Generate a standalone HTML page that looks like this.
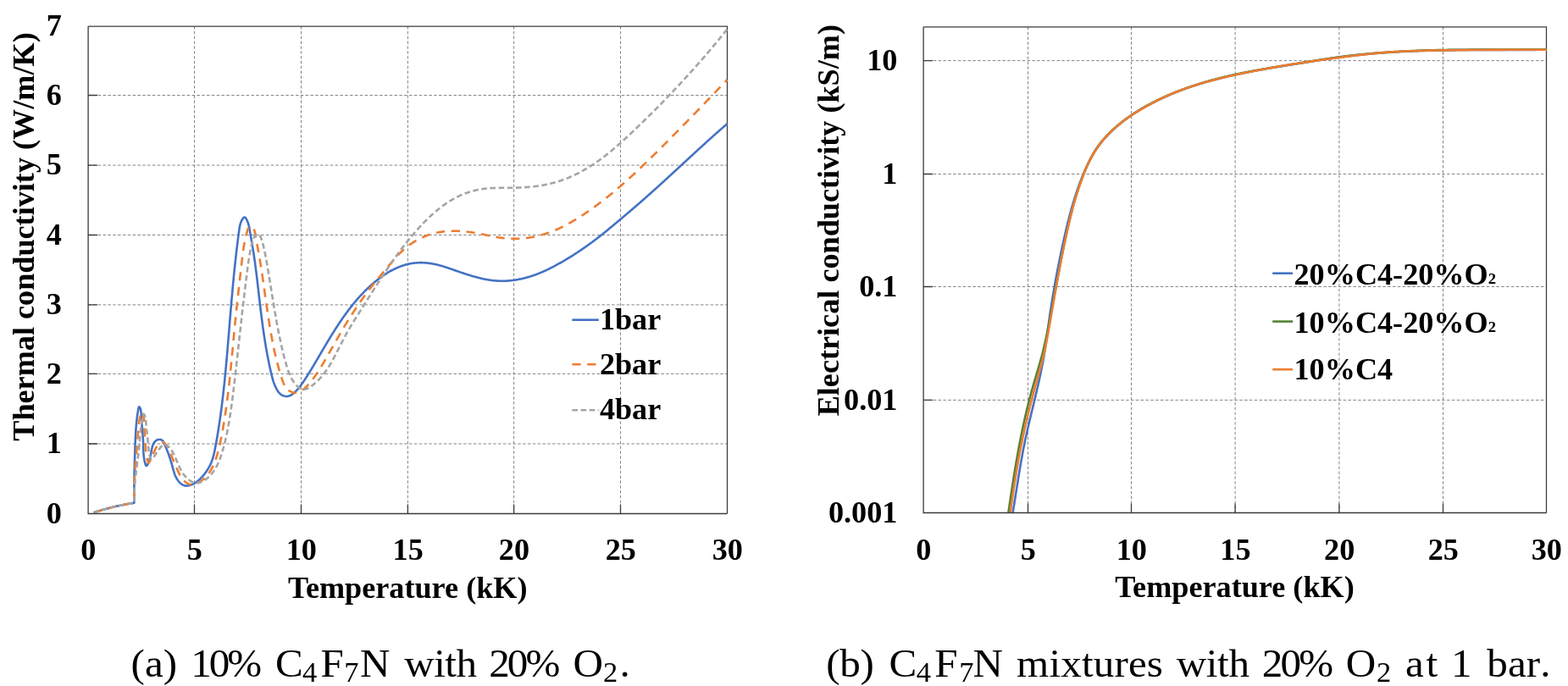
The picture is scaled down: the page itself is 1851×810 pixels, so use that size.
<!DOCTYPE html>
<html lang="en"><head><meta charset="utf-8"><title>Thermal and electrical conductivity</title>
<style>html,body{margin:0;padding:0;background:#fff;overflow:hidden}svg{display:block}.b{font-family:"Liberation Serif",serif;font-weight:bold;font-size:36.2px;fill:#000}.c{font-family:"Liberation Serif",serif;font-size:47px;fill:#000;font-kerning:none}.s{font-family:"Liberation Serif",serif;font-size:33px;fill:#000;font-kerning:none}</style></head><body>
<svg width="1851" height="810" viewBox="0 0 1851 810">
<rect width="1851" height="810" fill="#fff"/>
<path d="M229.50,31.00 V606.50 M355.50,31.00 V606.50 M481.40,31.00 V606.50 M606.60,31.00 V606.50 M732.50,31.00 V606.50 M104.10,524.00 H858.50 M104.10,441.40 H858.50 M104.10,359.90 H858.50 M104.10,277.50 H858.50 M104.10,195.10 H858.50 M104.10,112.50 H858.50" fill="none" stroke="#858585" stroke-width="1" stroke-dasharray="3.5 2.33"/>
<path d="M104.10,31.00 H858.50 V606.50" fill="none" stroke="#3a3a3a" stroke-width="1.25"/>
<clipPath id="cl"><rect x="104.1" y="29.0" width="754.9" height="577.5"/></clipPath>
<g clip-path="url(#cl)" fill="none" stroke-width="2.6" stroke-linejoin="round">
<path d="M110.59,605.28 L111.53,604.97 L112.46,604.66 L113.40,604.36 L114.34,604.06 L115.28,603.76 L116.22,603.47 L117.16,603.18 L118.10,602.89 L119.04,602.61 L119.99,602.33 L120.93,602.05 L121.88,601.78 L122.82,601.51 L123.77,601.24 L124.72,600.97 L125.67,600.71 L126.62,600.45 L127.57,600.20 L128.52,599.95 L129.47,599.70 L130.43,599.46 L131.38,599.22 L132.34,598.98 L133.29,598.74 L134.25,598.51 L135.21,598.28 L136.17,598.06 L137.12,597.84 L138.08,597.62 L139.05,597.40 L140.01,597.19 L140.97,596.98 L141.93,596.78 L142.90,596.58 L143.86,596.38 L144.82,596.18 L145.79,595.99 L146.76,595.80 L147.72,595.62 L148.69,595.44 L149.66,595.26 L150.63,595.08 L151.60,594.91 L152.57,594.75 L153.54,594.58 L154.51,594.42 L155.48,594.26 L156.45,594.11 L157.43,593.96 L158.40,593.81 L158.40,592.80 L158.40,591.80 L158.39,590.80 L158.38,589.80 L158.38,588.80 L158.38,587.80 L158.37,586.80 L158.37,585.80 L158.37,584.80 L158.37,583.80 L158.37,582.80 L158.37,581.80 L158.37,580.80 L158.38,579.80 L158.38,578.80 L158.39,577.80 L158.39,576.80 L158.40,575.80 L158.41,574.80 L158.42,573.80 L158.42,572.80 L158.43,571.80 L158.44,570.80 L158.46,569.81 L158.47,568.81 L158.48,567.81 L158.49,566.81 L158.51,565.81 L158.52,564.81 L158.54,563.81 L158.56,562.81 L158.57,561.81 L158.59,560.81 L158.61,559.82 L158.63,558.82 L158.65,557.82 L158.67,556.82 L158.69,555.82 L158.71,554.82 L158.73,553.82 L158.76,552.82 L158.78,551.83 L158.80,550.83 L158.83,549.83 L158.85,548.83 L158.88,547.83 L158.91,546.83 L158.93,545.83 L158.96,544.83 L158.99,543.84 L159.02,542.84 L159.05,541.84 L159.08,540.84 L159.11,539.84 L159.14,538.84 L159.17,537.84 L159.20,536.85 L159.23,535.85 L159.26,534.85 L159.29,533.85 L159.33,532.85 L159.36,531.85 L159.39,530.85 L159.43,529.85 L159.46,528.86 L159.50,527.86 L159.53,526.86 L159.57,525.86 L159.61,524.86 L159.64,523.86 L159.68,522.86 L159.72,521.86 L159.76,520.86 L159.80,519.87 L159.84,518.87 L159.88,517.87 L159.92,516.87 L159.97,515.87 L160.01,514.87 L160.06,513.87 L160.11,512.87 L160.16,511.87 L160.22,510.88 L160.28,509.88 L160.34,508.88 L160.40,507.88 L160.47,506.88 L160.54,505.88 L160.61,504.88 L160.68,503.89 L160.76,502.89 L160.85,501.89 L160.94,500.89 L161.03,499.89 L161.12,498.89 L161.22,497.90 L161.33,496.90 L161.44,495.90 L161.55,494.90 L161.67,493.91 L161.79,492.91 L161.92,491.91 L162.06,490.91 L162.20,489.92 L162.35,488.92 L162.50,487.92 L162.66,486.93 L162.82,485.93 L163.00,484.94 L163.17,483.94 L163.36,482.94 L163.55,481.95 L163.76,481.04 L164.03,480.43 L164.38,480.33 L164.82,480.76 L165.27,481.58 L165.69,482.59 L166.03,483.65 L166.28,484.71 L166.45,485.77 L166.57,486.83 L166.65,487.89 L166.70,488.94 L166.74,489.99 L166.77,491.02 L166.82,492.04 L166.87,493.04 L166.93,494.04 L166.99,495.03 L167.06,496.02 L167.13,497.00 L167.21,497.98 L167.29,498.95 L167.38,499.93 L167.46,500.90 L167.55,501.88 L167.64,502.87 L167.72,503.85 L167.81,504.84 L167.90,505.83 L167.99,506.83 L168.07,507.83 L168.16,508.83 L168.24,509.83 L168.32,510.83 L168.40,511.84 L168.48,512.84 L168.55,513.85 L168.62,514.85 L168.69,515.86 L168.76,516.86 L168.82,517.87 L168.88,518.87 L168.93,519.87 L168.98,520.87 L169.02,521.87 L169.06,522.87 L169.10,523.86 L169.13,524.85 L169.15,525.84 L169.17,526.83 L169.19,527.81 L169.21,528.80 L169.23,529.78 L169.25,530.76 L169.28,531.75 L169.31,532.73 L169.35,533.72 L169.40,534.71 L169.46,535.70 L169.53,536.69 L169.62,537.69 L169.72,538.70 L169.84,539.71 L169.98,540.72 L170.14,541.75 L170.32,542.78 L170.53,543.82 L170.76,544.86 L171.02,545.92 L171.30,546.98 L171.62,548.05 L171.97,549.02 L172.36,549.74 L172.78,550.07 L173.25,549.89 L173.74,549.29 L174.24,548.39 L174.72,547.35 L175.16,546.30 L175.57,545.27 L175.94,544.27 L176.27,543.29 L176.58,542.33 L176.86,541.38 L177.12,540.44 L177.35,539.51 L177.57,538.58 L177.77,537.65 L177.97,536.72 L178.16,535.78 L178.34,534.82 L178.52,533.85 L178.70,532.86 L178.89,531.85 L179.09,530.82 L179.31,529.77 L179.54,528.73 L179.81,527.68 L180.10,526.66 L180.44,525.66 L180.82,524.69 L181.25,523.77 L181.74,522.90 L182.29,522.09 L182.90,521.35 L183.60,520.70 L184.37,520.13 L185.21,519.66 L186.12,519.29 L187.07,519.05 L188.03,518.94 L188.98,518.96 L189.90,519.14 L190.77,519.48 L191.56,519.99 L192.25,520.68 L192.85,521.52 L193.37,522.46 L193.85,523.48 L194.28,524.51 L194.70,525.52 L195.10,526.50 L195.50,527.45 L195.88,528.37 L196.26,529.28 L196.63,530.18 L196.99,531.08 L197.35,531.97 L197.70,532.87 L198.05,533.77 L198.40,534.68 L198.74,535.60 L199.07,536.53 L199.40,537.46 L199.73,538.39 L200.05,539.33 L200.37,540.28 L200.68,541.22 L200.99,542.18 L201.29,543.13 L201.59,544.09 L201.89,545.06 L202.18,546.02 L202.47,546.99 L202.75,547.96 L203.02,548.93 L203.30,549.90 L203.56,550.88 L203.83,551.85 L204.09,552.83 L204.36,553.80 L204.62,554.77 L204.90,555.73 L205.18,556.69 L205.48,557.65 L205.79,558.60 L206.11,559.54 L206.45,560.47 L206.82,561.39 L207.21,562.30 L207.62,563.20 L208.07,564.08 L208.55,564.95 L209.05,565.81 L209.60,566.65 L210.19,567.47 L210.81,568.27 L211.48,569.06 L212.20,569.82 L212.95,570.54 L213.75,571.21 L214.57,571.82 L215.43,572.35 L216.32,572.80 L217.24,573.14 L218.18,573.38 L219.13,573.53 L220.10,573.58 L221.08,573.55 L222.07,573.45 L223.05,573.27 L224.03,573.03 L225.01,572.73 L225.97,572.38 L226.92,571.99 L227.84,571.56 L228.74,571.10 L229.62,570.61 L230.48,570.09 L231.31,569.54 L232.13,568.97 L232.92,568.37 L233.70,567.75 L234.46,567.11 L235.20,566.45 L235.93,565.77 L236.64,565.07 L237.34,564.36 L238.03,563.63 L238.70,562.89 L239.37,562.14 L240.02,561.38 L240.66,560.60 L241.29,559.82 L241.91,559.03 L242.52,558.22 L243.11,557.41 L243.69,556.58 L244.26,555.75 L244.81,554.91 L245.35,554.06 L245.87,553.20 L246.37,552.33 L246.86,551.46 L247.33,550.57 L247.79,549.68 L248.23,548.78 L248.65,547.88 L249.05,546.97 L249.43,546.05 L249.80,545.12 L250.14,544.19 L250.47,543.26 L250.79,542.31 L251.09,541.37 L251.38,540.42 L251.66,539.46 L251.92,538.50 L252.17,537.54 L252.41,536.57 L252.64,535.60 L252.87,534.63 L253.08,533.65 L253.29,532.67 L253.49,531.69 L253.69,530.71 L253.88,529.73 L254.07,528.75 L254.26,527.76 L254.45,526.78 L254.63,525.79 L254.81,524.81 L254.99,523.82 L255.17,522.84 L255.35,521.85 L255.52,520.87 L255.70,519.88 L255.87,518.90 L256.04,517.91 L256.21,516.92 L256.38,515.94 L256.55,514.95 L256.72,513.96 L256.88,512.98 L257.04,511.99 L257.21,511.00 L257.37,510.02 L257.53,509.03 L257.69,508.04 L257.84,507.05 L258.00,506.07 L258.15,505.08 L258.31,504.09 L258.46,503.10 L258.61,502.11 L258.76,501.12 L258.91,500.14 L259.06,499.15 L259.20,498.16 L259.35,497.17 L259.49,496.18 L259.64,495.19 L259.78,494.20 L259.92,493.21 L260.06,492.22 L260.20,491.23 L260.33,490.24 L260.47,489.25 L260.61,488.26 L260.74,487.27 L260.87,486.28 L261.01,485.29 L261.14,484.30 L261.27,483.31 L261.40,482.32 L261.52,481.33 L261.65,480.33 L261.78,479.34 L261.90,478.35 L262.03,477.36 L262.15,476.37 L262.27,475.38 L262.39,474.38 L262.51,473.39 L262.63,472.40 L262.75,471.41 L262.87,470.42 L262.99,469.42 L263.10,468.43 L263.22,467.44 L263.33,466.45 L263.45,465.45 L263.56,464.46 L263.67,463.47 L263.78,462.47 L263.89,461.48 L264.00,460.49 L264.11,459.49 L264.22,458.50 L264.33,457.51 L264.43,456.51 L264.54,455.52 L264.64,454.53 L264.75,453.53 L264.85,452.54 L264.96,451.54 L265.06,450.55 L265.16,449.56 L265.26,448.56 L265.36,447.57 L265.46,446.57 L265.56,445.58 L265.66,444.58 L265.76,443.59 L265.85,442.60 L265.95,441.60 L266.05,440.61 L266.14,439.61 L266.24,438.62 L266.33,437.62 L266.43,436.63 L266.52,435.63 L266.61,434.64 L266.71,433.64 L266.80,432.65 L266.89,431.65 L266.98,430.66 L267.07,429.66 L267.16,428.66 L267.25,427.67 L267.34,426.67 L267.43,425.68 L267.52,424.68 L267.61,423.69 L267.70,422.69 L267.78,421.70 L267.87,420.70 L267.96,419.70 L268.04,418.71 L268.13,417.71 L268.22,416.72 L268.30,415.72 L268.39,414.73 L268.47,413.73 L268.56,412.73 L268.64,411.74 L268.72,410.74 L268.81,409.75 L268.89,408.75 L268.97,407.75 L269.06,406.76 L269.14,405.76 L269.22,404.76 L269.31,403.77 L269.39,402.77 L269.47,401.78 L269.55,400.78 L269.63,399.78 L269.72,398.79 L269.80,397.79 L269.88,396.80 L269.96,395.80 L270.04,394.80 L270.12,393.81 L270.21,392.81 L270.29,391.81 L270.37,390.82 L270.45,389.82 L270.53,388.83 L270.61,387.83 L270.69,386.83 L270.77,385.84 L270.85,384.84 L270.94,383.84 L271.02,382.85 L271.10,381.85 L271.18,380.86 L271.26,379.86 L271.34,378.86 L271.42,377.87 L271.50,376.87 L271.59,375.88 L271.67,374.88 L271.75,373.88 L271.83,372.89 L271.91,371.89 L272.00,370.90 L272.08,369.90 L272.16,368.90 L272.25,367.91 L272.33,366.91 L272.41,365.92 L272.50,364.92 L272.58,363.93 L272.66,362.93 L272.75,361.93 L272.83,360.94 L272.92,359.94 L273.00,358.95 L273.09,357.95 L273.17,356.96 L273.26,355.96 L273.35,354.97 L273.43,353.97 L273.52,352.98 L273.61,351.98 L273.69,350.99 L273.78,349.99 L273.87,349.00 L273.96,348.00 L274.05,347.01 L274.14,346.01 L274.23,345.02 L274.32,344.02 L274.41,343.03 L274.50,342.03 L274.59,341.04 L274.68,340.04 L274.77,339.05 L274.87,338.05 L274.96,337.06 L275.05,336.06 L275.15,335.07 L275.24,334.07 L275.34,333.08 L275.43,332.08 L275.53,331.09 L275.62,330.10 L275.72,329.10 L275.82,328.11 L275.91,327.11 L276.01,326.12 L276.11,325.12 L276.21,324.13 L276.31,323.14 L276.41,322.14 L276.51,321.15 L276.61,320.15 L276.71,319.16 L276.82,318.17 L276.92,317.17 L277.02,316.18 L277.13,315.18 L277.23,314.19 L277.33,313.20 L277.44,312.20 L277.55,311.21 L277.65,310.21 L277.76,309.22 L277.87,308.23 L277.98,307.23 L278.09,306.24 L278.20,305.24 L278.31,304.25 L278.42,303.26 L278.53,302.26 L278.64,301.27 L278.76,300.28 L278.87,299.28 L278.98,298.29 L279.10,297.29 L279.22,296.30 L279.33,295.31 L279.45,294.31 L279.57,293.32 L279.69,292.33 L279.80,291.33 L279.92,290.34 L280.05,289.35 L280.17,288.35 L280.29,287.36 L280.41,286.36 L280.54,285.37 L280.66,284.38 L280.79,283.38 L280.91,282.39 L281.04,281.40 L281.17,280.40 L281.29,279.41 L281.42,278.42 L281.55,277.42 L281.68,276.43 L281.82,275.44 L281.95,274.44 L282.08,273.45 L282.22,272.46 L282.35,271.46 L282.49,270.47 L282.64,269.48 L282.81,268.49 L282.99,267.51 L283.19,266.53 L283.42,265.56 L283.68,264.60 L283.98,263.64 L284.31,262.69 L284.68,261.75 L285.10,260.83 L285.57,259.91 L286.09,259.01 L286.67,258.12 L287.30,257.29 L287.96,256.68 L288.63,256.43 L289.28,256.66 L289.89,257.28 L290.47,258.13 L291.00,259.07 L291.49,260.02 L291.93,260.98 L292.33,261.94 L292.70,262.91 L293.03,263.87 L293.32,264.85 L293.59,265.82 L293.84,266.80 L294.06,267.77 L294.26,268.75 L294.45,269.74 L294.63,270.72 L294.80,271.70 L294.96,272.69 L295.13,273.67 L295.29,274.66 L295.45,275.64 L295.62,276.63 L295.79,277.61 L295.95,278.59 L296.12,279.58 L296.29,280.56 L296.46,281.55 L296.63,282.53 L296.80,283.52 L296.96,284.50 L297.13,285.49 L297.30,286.47 L297.47,287.46 L297.64,288.44 L297.80,289.43 L297.97,290.41 L298.14,291.40 L298.30,292.38 L298.46,293.37 L298.62,294.36 L298.78,295.34 L298.94,296.33 L299.10,297.32 L299.25,298.30 L299.41,299.29 L299.56,300.28 L299.71,301.27 L299.86,302.25 L300.00,303.24 L300.15,304.23 L300.29,305.22 L300.44,306.21 L300.58,307.20 L300.72,308.19 L300.86,309.18 L300.99,310.17 L301.13,311.16 L301.27,312.15 L301.40,313.14 L301.53,314.13 L301.66,315.12 L301.79,316.11 L301.92,317.10 L302.05,318.09 L302.18,319.08 L302.30,320.07 L302.43,321.06 L302.55,322.06 L302.68,323.05 L302.80,324.04 L302.92,325.03 L303.04,326.02 L303.16,327.02 L303.28,328.01 L303.40,329.00 L303.52,329.99 L303.64,330.99 L303.76,331.98 L303.87,332.97 L303.99,333.96 L304.11,334.96 L304.22,335.95 L304.34,336.94 L304.45,337.94 L304.57,338.93 L304.68,339.92 L304.80,340.91 L304.91,341.91 L305.03,342.90 L305.14,343.89 L305.25,344.89 L305.37,345.88 L305.48,346.87 L305.59,347.87 L305.71,348.86 L305.82,349.85 L305.93,350.85 L306.05,351.84 L306.16,352.83 L306.28,353.83 L306.39,354.82 L306.51,355.81 L306.62,356.81 L306.74,357.80 L306.85,358.79 L306.97,359.79 L307.09,360.78 L307.21,361.77 L307.32,362.76 L307.44,363.76 L307.56,364.75 L307.68,365.74 L307.80,366.73 L307.92,367.73 L308.04,368.72 L308.17,369.71 L308.29,370.70 L308.41,371.70 L308.54,372.69 L308.66,373.68 L308.79,374.67 L308.91,375.66 L309.04,376.65 L309.17,377.64 L309.30,378.64 L309.43,379.63 L309.56,380.62 L309.69,381.61 L309.82,382.60 L309.96,383.59 L310.09,384.58 L310.23,385.57 L310.36,386.56 L310.50,387.55 L310.64,388.54 L310.78,389.53 L310.92,390.52 L311.06,391.51 L311.21,392.49 L311.35,393.48 L311.50,394.47 L311.64,395.46 L311.79,396.45 L311.94,397.44 L312.09,398.42 L312.25,399.41 L312.40,400.40 L312.55,401.39 L312.71,402.37 L312.87,403.36 L313.03,404.35 L313.19,405.33 L313.35,406.32 L313.51,407.30 L313.68,408.29 L313.85,409.27 L314.01,410.26 L314.18,411.24 L314.35,412.23 L314.53,413.21 L314.70,414.20 L314.88,415.18 L315.06,416.16 L315.24,417.15 L315.42,418.13 L315.60,419.11 L315.79,420.09 L315.97,421.08 L316.16,422.06 L316.35,423.04 L316.55,424.02 L316.74,425.00 L316.94,425.98 L317.14,426.96 L317.34,427.94 L317.54,428.92 L317.74,429.90 L317.95,430.88 L318.16,431.86 L318.37,432.83 L318.58,433.81 L318.80,434.79 L319.01,435.77 L319.23,436.74 L319.45,437.72 L319.68,438.70 L319.90,439.67 L320.13,440.65 L320.36,441.62 L320.59,442.60 L320.83,443.57 L321.08,444.54 L321.33,445.51 L321.58,446.47 L321.85,447.44 L322.13,448.40 L322.42,449.35 L322.71,450.30 L323.03,451.25 L323.35,452.19 L323.69,453.12 L324.05,454.05 L324.42,454.97 L324.82,455.89 L325.23,456.79 L325.66,457.69 L326.11,458.58 L326.59,459.46 L327.09,460.34 L327.61,461.20 L328.16,462.04 L328.75,462.86 L329.38,463.65 L330.06,464.40 L330.79,465.09 L331.58,465.73 L332.43,466.30 L333.34,466.80 L334.31,467.22 L335.30,467.56 L336.32,467.80 L337.33,467.95 L338.33,467.99 L339.30,467.93 L340.25,467.77 L341.18,467.53 L342.08,467.20 L342.96,466.80 L343.82,466.33 L344.66,465.81 L345.48,465.23 L346.28,464.61 L347.06,463.95 L347.82,463.27 L348.56,462.56 L349.29,461.84 L350.00,461.11 L350.69,460.36 L351.37,459.61 L352.03,458.85 L352.69,458.08 L353.32,457.30 L353.95,456.52 L354.57,455.73 L355.17,454.93 L355.77,454.12 L356.35,453.31 L356.93,452.50 L357.50,451.68 L358.06,450.86 L358.62,450.03 L359.18,449.20 L359.72,448.37 L360.27,447.53 L360.81,446.70 L361.35,445.86 L361.89,445.02 L362.43,444.18 L362.96,443.34 L363.49,442.49 L364.02,441.65 L364.55,440.81 L365.07,439.96 L365.60,439.11 L366.12,438.26 L366.64,437.41 L367.16,436.56 L367.67,435.71 L368.19,434.86 L368.70,434.01 L369.22,433.15 L369.73,432.30 L370.24,431.44 L370.75,430.59 L371.26,429.73 L371.77,428.87 L372.28,428.02 L372.78,427.16 L373.29,426.30 L373.80,425.44 L374.30,424.58 L374.81,423.72 L375.31,422.86 L375.81,422.00 L376.32,421.14 L376.82,420.28 L377.33,419.41 L377.83,418.55 L378.34,417.69 L378.84,416.83 L379.34,415.96 L379.85,415.10 L380.36,414.24 L380.86,413.38 L381.37,412.51 L381.88,411.65 L382.38,410.79 L382.89,409.93 L383.40,409.07 L383.91,408.20 L384.42,407.34 L384.93,406.48 L385.45,405.62 L385.96,404.76 L386.47,403.90 L386.99,403.04 L387.51,402.18 L388.02,401.33 L388.54,400.47 L389.06,399.61 L389.58,398.76 L390.11,397.90 L390.63,397.05 L391.15,396.19 L391.68,395.34 L392.21,394.49 L392.74,393.64 L393.27,392.79 L393.80,391.94 L394.33,391.09 L394.87,390.24 L395.41,389.40 L395.95,388.55 L396.49,387.71 L397.03,386.87 L397.57,386.03 L398.12,385.19 L398.67,384.35 L399.22,383.51 L399.77,382.68 L400.32,381.85 L400.88,381.01 L401.44,380.18 L402.00,379.35 L402.56,378.53 L403.12,377.70 L403.69,376.88 L404.26,376.06 L404.83,375.24 L405.40,374.42 L405.98,373.60 L406.56,372.79 L407.14,371.98 L407.72,371.17 L408.31,370.36 L408.90,369.55 L409.49,368.75 L410.08,367.95 L410.68,367.15 L411.28,366.35 L411.88,365.56 L412.49,364.76 L413.10,363.97 L413.71,363.19 L414.32,362.40 L414.94,361.62 L415.56,360.84 L416.18,360.06 L416.81,359.29 L417.44,358.52 L418.07,357.75 L418.71,356.98 L419.35,356.22 L419.99,355.46 L420.64,354.70 L421.29,353.94 L421.94,353.19 L422.60,352.44 L423.26,351.70 L423.93,350.95 L424.59,350.21 L425.26,349.48 L425.94,348.74 L426.62,348.01 L427.30,347.29 L427.99,346.56 L428.68,345.84 L429.37,345.13 L430.07,344.42 L430.77,343.71 L431.48,343.00 L432.19,342.30 L432.91,341.60 L433.62,340.90 L434.35,340.21 L435.07,339.52 L435.81,338.84 L436.54,338.16 L437.28,337.48 L438.03,336.81 L438.78,336.14 L439.53,335.48 L440.29,334.82 L441.05,334.16 L441.82,333.51 L442.59,332.87 L443.36,332.22 L444.15,331.59 L444.93,330.96 L445.72,330.33 L446.51,329.71 L447.31,329.09 L448.11,328.49 L448.92,327.88 L449.73,327.29 L450.55,326.70 L451.37,326.12 L452.19,325.54 L453.02,324.97 L453.86,324.41 L454.69,323.86 L455.54,323.32 L456.38,322.78 L457.23,322.25 L458.09,321.73 L458.95,321.22 L459.81,320.72 L460.68,320.22 L461.55,319.74 L462.43,319.27 L463.31,318.80 L464.19,318.35 L465.08,317.90 L465.97,317.47 L466.87,317.04 L467.77,316.63 L468.68,316.23 L469.59,315.83 L470.50,315.45 L471.42,315.09 L472.34,314.73 L473.27,314.38 L474.20,314.05 L475.14,313.73 L476.07,313.42 L477.02,313.12 L477.96,312.84 L478.91,312.57 L479.87,312.32 L480.83,312.07 L481.79,311.84 L482.76,311.63 L483.73,311.43 L484.71,311.24 L485.68,311.07 L486.67,310.91 L487.65,310.76 L488.65,310.64 L489.64,310.52 L490.64,310.43 L491.64,310.34 L492.65,310.28 L493.66,310.23 L494.67,310.19 L495.68,310.17 L496.70,310.16 L497.72,310.17 L498.73,310.20 L499.75,310.23 L500.77,310.28 L501.79,310.34 L502.80,310.42 L503.82,310.51 L504.83,310.61 L505.84,310.73 L506.84,310.86 L507.84,310.99 L508.84,311.15 L509.83,311.31 L510.82,311.48 L511.81,311.67 L512.78,311.86 L513.76,312.07 L514.73,312.28 L515.69,312.51 L516.66,312.74 L517.62,312.98 L518.57,313.23 L519.53,313.49 L520.48,313.75 L521.42,314.02 L522.37,314.30 L523.31,314.59 L524.25,314.88 L525.19,315.17 L526.13,315.47 L527.07,315.78 L528.01,316.09 L528.95,316.40 L529.88,316.72 L530.82,317.04 L531.76,317.36 L532.69,317.68 L533.63,318.01 L534.57,318.33 L535.51,318.66 L536.45,318.99 L537.39,319.32 L538.33,319.65 L539.28,319.98 L540.23,320.30 L541.17,320.63 L542.12,320.96 L543.07,321.29 L544.02,321.61 L544.97,321.93 L545.93,322.26 L546.88,322.58 L547.84,322.90 L548.80,323.21 L549.75,323.53 L550.71,323.84 L551.67,324.15 L552.63,324.45 L553.60,324.76 L554.56,325.05 L555.53,325.35 L556.49,325.64 L557.46,325.93 L558.43,326.21 L559.39,326.49 L560.36,326.76 L561.33,327.03 L562.31,327.30 L563.28,327.56 L564.25,327.81 L565.23,328.06 L566.20,328.30 L567.18,328.53 L568.16,328.76 L569.13,328.98 L570.11,329.20 L571.09,329.41 L572.07,329.61 L573.05,329.80 L574.04,329.99 L575.02,330.17 L576.00,330.34 L576.99,330.50 L577.97,330.65 L578.96,330.80 L579.94,330.93 L580.93,331.06 L581.92,331.17 L582.91,331.28 L583.90,331.38 L584.89,331.47 L585.88,331.55 L586.87,331.61 L587.86,331.67 L588.85,331.72 L589.84,331.75 L590.84,331.78 L591.83,331.79 L592.82,331.79 L593.82,331.79 L594.81,331.77 L595.81,331.75 L596.80,331.71 L597.79,331.66 L598.79,331.61 L599.78,331.54 L600.77,331.46 L601.77,331.38 L602.76,331.28 L603.75,331.18 L604.74,331.07 L605.73,330.94 L606.72,330.81 L607.71,330.67 L608.69,330.52 L609.68,330.36 L610.66,330.19 L611.65,330.02 L612.63,329.83 L613.61,329.64 L614.59,329.44 L615.57,329.23 L616.55,329.01 L617.52,328.78 L618.49,328.54 L619.46,328.30 L620.43,328.05 L621.40,327.79 L622.37,327.52 L623.33,327.25 L624.29,326.97 L625.25,326.68 L626.20,326.38 L627.16,326.07 L628.11,325.76 L629.06,325.44 L630.00,325.12 L630.95,324.78 L631.89,324.44 L632.82,324.10 L633.76,323.74 L634.69,323.38 L635.62,323.02 L636.55,322.64 L637.48,322.27 L638.40,321.88 L639.32,321.49 L640.24,321.10 L641.16,320.70 L642.08,320.29 L642.99,319.88 L643.90,319.46 L644.81,319.04 L645.71,318.61 L646.62,318.18 L647.52,317.75 L648.42,317.30 L649.31,316.86 L650.21,316.41 L651.10,315.96 L652.00,315.50 L652.88,315.04 L653.77,314.58 L654.66,314.11 L655.54,313.64 L656.42,313.16 L657.30,312.68 L658.18,312.20 L659.06,311.72 L659.93,311.23 L660.81,310.74 L661.68,310.25 L662.55,309.76 L663.42,309.26 L664.28,308.76 L665.15,308.26 L666.01,307.76 L666.87,307.25 L667.73,306.74 L668.59,306.23 L669.45,305.72 L670.30,305.20 L671.16,304.68 L672.01,304.16 L672.86,303.64 L673.71,303.11 L674.55,302.58 L675.40,302.05 L676.24,301.52 L677.09,300.98 L677.93,300.45 L678.77,299.91 L679.60,299.36 L680.44,298.82 L681.27,298.27 L682.11,297.72 L682.94,297.17 L683.77,296.62 L684.60,296.06 L685.42,295.51 L686.25,294.95 L687.07,294.38 L687.89,293.82 L688.71,293.25 L689.53,292.68 L690.35,292.11 L691.17,291.54 L691.98,290.96 L692.80,290.38 L693.61,289.80 L694.42,289.22 L695.23,288.64 L696.03,288.05 L696.84,287.46 L697.65,286.87 L698.45,286.28 L699.25,285.69 L700.05,285.09 L700.85,284.49 L701.65,283.89 L702.44,283.29 L703.24,282.68 L704.03,282.07 L704.83,281.47 L705.62,280.86 L706.41,280.24 L707.20,279.63 L707.98,279.01 L708.77,278.39 L709.55,277.77 L710.34,277.15 L711.12,276.53 L711.90,275.91 L712.68,275.28 L713.46,274.65 L714.24,274.03 L715.02,273.40 L715.80,272.77 L716.57,272.13 L717.35,271.50 L718.12,270.87 L718.89,270.23 L719.67,269.59 L720.44,268.96 L721.21,268.32 L721.98,267.68 L722.75,267.04 L723.52,266.40 L724.29,265.76 L725.06,265.12 L725.83,264.48 L726.59,263.83 L727.36,263.19 L728.13,262.55 L728.89,261.90 L729.66,261.26 L730.42,260.61 L731.19,259.97 L731.95,259.32 L732.72,258.68 L733.48,258.03 L734.25,257.39 L735.01,256.74 L735.77,256.10 L736.54,255.45 L737.30,254.81 L738.06,254.16 L738.83,253.52 L739.59,252.87 L740.35,252.22 L741.11,251.58 L741.88,250.93 L742.64,250.28 L743.40,249.64 L744.16,248.99 L744.92,248.34 L745.68,247.69 L746.44,247.04 L747.20,246.39 L747.96,245.75 L748.71,245.10 L749.47,244.44 L750.23,243.79 L750.99,243.14 L751.74,242.49 L752.50,241.84 L753.25,241.19 L754.01,240.53 L754.76,239.88 L755.52,239.22 L756.27,238.57 L757.02,237.91 L757.78,237.26 L758.53,236.60 L759.28,235.94 L760.03,235.28 L760.78,234.62 L761.53,233.96 L762.28,233.30 L763.03,232.64 L763.77,231.98 L764.52,231.32 L765.27,230.65 L766.02,229.99 L766.76,229.33 L767.51,228.66 L768.25,228.00 L769.00,227.33 L769.74,226.66 L770.49,226.00 L771.23,225.33 L771.97,224.66 L772.72,223.99 L773.46,223.33 L774.20,222.66 L774.94,221.99 L775.68,221.32 L776.42,220.65 L777.16,219.98 L777.90,219.30 L778.64,218.63 L779.38,217.96 L780.12,217.29 L780.86,216.61 L781.60,215.94 L782.34,215.27 L783.08,214.59 L783.82,213.92 L784.55,213.25 L785.29,212.57 L786.03,211.90 L786.76,211.22 L787.50,210.55 L788.24,209.87 L788.97,209.19 L789.71,208.52 L790.45,207.84 L791.18,207.16 L791.92,206.49 L792.65,205.81 L793.39,205.13 L794.12,204.45 L794.86,203.78 L795.59,203.10 L796.33,202.42 L797.06,201.74 L797.80,201.07 L798.53,200.39 L799.27,199.71 L800.00,199.03 L800.73,198.35 L801.47,197.67 L802.20,196.99 L802.94,196.32 L803.67,195.64 L804.40,194.96 L805.14,194.28 L805.87,193.60 L806.61,192.92 L807.34,192.24 L808.08,191.56 L808.81,190.89 L809.54,190.21 L810.28,189.53 L811.01,188.85 L811.75,188.17 L812.48,187.49 L813.22,186.81 L813.95,186.14 L814.69,185.46 L815.42,184.78 L816.16,184.10 L816.89,183.43 L817.63,182.75 L818.36,182.07 L819.10,181.39 L819.83,180.72 L820.57,180.04 L821.30,179.36 L822.04,178.69 L822.78,178.01 L823.51,177.34 L824.25,176.66 L824.99,175.99 L825.73,175.31 L826.46,174.64 L827.20,173.96 L827.94,173.29 L828.68,172.61 L829.42,171.94 L830.16,171.27 L830.90,170.60 L831.64,169.92 L832.38,169.25 L833.12,168.58 L833.86,167.91 L834.60,167.24 L835.34,166.57 L836.08,165.90 L836.82,165.23 L837.57,164.56 L838.31,163.89 L839.05,163.22 L839.80,162.56 L840.54,161.89 L841.29,161.22 L842.03,160.56 L842.78,159.89 L843.52,159.23 L844.27,158.56 L845.01,157.90 L845.76,157.24 L846.51,156.57 L847.26,155.91 L848.01,155.25 L848.76,154.59 L849.51,153.93 L850.26,153.27 L851.01,152.61 L851.76,151.95 L852.51,151.30 L853.26,150.64 L854.02,149.98 L854.77,149.33 L855.52,148.67 L856.28,148.02 L857.04,147.37 L857.79,146.71 L858.55,146.06" stroke="#4472C4"/>
<path d="M110.59,605.28 L111.53,604.97 L112.47,604.66 L113.41,604.36 L114.35,604.06 L115.29,603.76 L116.23,603.47 L117.17,603.18 L118.11,602.89 L119.06,602.61 L120.00,602.32 L120.95,602.05 L121.90,601.77 L122.85,601.50 L123.80,601.23 L124.75,600.97 L125.70,600.70 L126.65,600.45 L127.60,600.19 L128.56,599.94 L129.51,599.69 L130.47,599.45 L131.42,599.20 L132.38,598.97 L133.34,598.73 L134.30,598.50 L135.26,598.27 L136.22,598.04 L137.18,597.82 L138.14,597.60 L139.10,597.39 L140.07,597.18 L141.03,596.97 L141.99,596.76 L142.96,596.56 L143.93,596.36 L144.89,596.17 L145.86,595.98 L146.83,595.79 L147.80,595.61 L148.77,595.43 L149.74,595.25 L150.71,595.07 L151.68,594.90 L152.65,594.74 L153.63,594.57 L154.60,594.41 L155.57,594.26 L156.55,594.10 L157.52,593.95 L158.50,593.81 L158.50,592.80 L158.46,591.79 L158.42,590.78 L158.39,589.77 L158.36,588.76 L158.34,587.76 L158.32,586.75 L158.30,585.74 L158.29,584.74 L158.28,583.73 L158.28,582.73 L158.28,581.73 L158.29,580.72 L158.29,579.72 L158.30,578.72 L158.32,577.72 L158.34,576.72 L158.36,575.72 L158.38,574.72 L158.41,573.73 L158.44,572.73 L158.47,571.73 L158.51,570.74 L158.55,569.74 L158.59,568.74 L158.64,567.75 L158.68,566.75 L158.73,565.76 L158.79,564.76 L158.84,563.77 L158.90,562.78 L158.96,561.78 L159.02,560.79 L159.08,559.80 L159.14,558.81 L159.21,557.81 L159.28,556.82 L159.35,555.83 L159.42,554.84 L159.49,553.84 L159.57,552.85 L159.64,551.86 L159.72,550.87 L159.80,549.88 L159.88,548.89 L159.96,547.89 L160.04,546.90 L160.13,545.91 L160.21,544.92 L160.29,543.92 L160.38,542.93 L160.46,541.94 L160.55,540.95 L160.64,539.95 L160.72,538.96 L160.81,537.97 L160.90,536.97 L160.98,535.98 L161.07,534.98 L161.16,533.99 L161.25,532.99 L161.33,532.00 L161.42,531.00 L161.51,530.00 L161.59,529.01 L161.68,528.01 L161.76,527.01 L161.84,526.01 L161.93,525.01 L162.01,524.01 L162.09,523.01 L162.17,522.01 L162.25,521.01 L162.33,520.01 L162.41,519.00 L162.48,518.00 L162.56,516.99 L162.63,515.99 L162.70,514.98 L162.77,513.97 L162.84,512.97 L162.90,511.96 L162.97,510.95 L163.03,509.94 L163.10,508.93 L163.17,507.92 L163.24,506.91 L163.32,505.90 L163.40,504.90 L163.48,503.89 L163.58,502.89 L163.68,501.89 L163.79,500.89 L163.91,499.89 L164.04,498.90 L164.18,497.91 L164.33,496.93 L164.50,495.94 L164.68,494.97 L164.88,493.99 L165.10,493.03 L165.33,492.06 L165.58,491.11 L165.85,490.16 L166.14,489.21 L166.45,488.27 L166.78,487.34 L167.13,486.50 L167.50,485.99 L167.86,486.00 L168.21,486.52 L168.54,487.42 L168.86,488.58 L169.14,489.85 L169.39,491.12 L169.61,492.33 L169.79,493.50 L169.95,494.63 L170.07,495.72 L170.17,496.77 L170.25,497.79 L170.31,498.78 L170.36,499.75 L170.39,500.70 L170.41,501.64 L170.43,502.57 L170.44,503.49 L170.45,504.40 L170.46,505.32 L170.47,506.25 L170.49,507.18 L170.51,508.13 L170.55,509.09 L170.60,510.06 L170.66,511.05 L170.72,512.04 L170.79,513.05 L170.86,514.06 L170.94,515.07 L171.02,516.09 L171.11,517.10 L171.19,518.12 L171.28,519.14 L171.36,520.15 L171.45,521.15 L171.53,522.15 L171.61,523.14 L171.68,524.12 L171.75,525.08 L171.82,526.04 L171.87,526.97 L171.93,527.90 L171.98,528.82 L172.04,529.74 L172.09,530.66 L172.16,531.59 L172.23,532.53 L172.32,533.48 L172.42,534.45 L172.53,535.44 L172.67,536.46 L172.83,537.51 L173.01,538.59 L173.22,539.72 L173.46,540.88 L173.73,542.09 L174.03,543.33 L174.36,544.50 L174.73,545.48 L175.12,546.17 L175.54,546.45 L175.97,546.24 L176.43,545.62 L176.90,544.71 L177.37,543.63 L177.83,542.52 L178.29,541.46 L178.73,540.45 L179.17,539.50 L179.60,538.58 L180.02,537.68 L180.43,536.80 L180.84,535.93 L181.23,535.06 L181.62,534.17 L182.01,533.28 L182.41,532.38 L182.81,531.48 L183.24,530.58 L183.69,529.70 L184.17,528.82 L184.70,527.96 L185.26,527.12 L185.88,526.30 L186.55,525.51 L187.28,524.75 L188.09,524.03 L188.95,523.38 L189.85,522.84 L190.76,522.46 L191.66,522.28 L192.52,522.34 L193.35,522.67 L194.12,523.20 L194.86,523.90 L195.55,524.72 L196.20,525.60 L196.82,526.50 L197.41,527.40 L197.96,528.30 L198.48,529.20 L198.97,530.11 L199.44,531.01 L199.89,531.92 L200.32,532.83 L200.73,533.74 L201.12,534.64 L201.50,535.55 L201.86,536.46 L202.22,537.37 L202.57,538.28 L202.92,539.19 L203.27,540.10 L203.61,541.01 L203.96,541.92 L204.31,542.83 L204.67,543.74 L205.04,544.65 L205.41,545.57 L205.79,546.48 L206.17,547.39 L206.56,548.31 L206.95,549.22 L207.35,550.14 L207.75,551.06 L208.16,551.98 L208.57,552.91 L208.99,553.83 L209.41,554.76 L209.83,555.70 L210.26,556.63 L210.70,557.57 L211.14,558.50 L211.60,559.42 L212.07,560.33 L212.56,561.23 L213.06,562.11 L213.59,562.98 L214.13,563.83 L214.70,564.65 L215.30,565.45 L215.92,566.22 L216.58,566.96 L217.26,567.66 L217.98,568.33 L218.74,568.96 L219.53,569.54 L220.37,570.09 L221.24,570.58 L222.14,571.01 L223.08,571.38 L224.03,571.68 L224.99,571.90 L225.96,572.03 L226.93,572.07 L227.89,572.02 L228.86,571.90 L229.82,571.69 L230.77,571.42 L231.72,571.09 L232.66,570.70 L233.58,570.25 L234.50,569.76 L235.39,569.23 L236.28,568.66 L237.14,568.06 L237.98,567.44 L238.80,566.80 L239.60,566.14 L240.38,565.48 L241.13,564.80 L241.86,564.10 L242.57,563.40 L243.26,562.68 L243.92,561.94 L244.57,561.20 L245.20,560.44 L245.81,559.67 L246.40,558.88 L246.97,558.08 L247.53,557.27 L248.06,556.45 L248.59,555.62 L249.09,554.78 L249.58,553.93 L250.06,553.07 L250.52,552.19 L250.96,551.31 L251.39,550.42 L251.81,549.53 L252.22,548.62 L252.61,547.71 L252.99,546.79 L253.36,545.86 L253.72,544.93 L254.07,543.99 L254.41,543.05 L254.74,542.10 L255.06,541.15 L255.37,540.19 L255.67,539.23 L255.97,538.26 L256.25,537.29 L256.53,536.32 L256.81,535.35 L257.08,534.38 L257.34,533.40 L257.60,532.43 L257.85,531.45 L258.10,530.47 L258.34,529.50 L258.58,528.52 L258.82,527.54 L259.05,526.56 L259.28,525.58 L259.51,524.61 L259.73,523.63 L259.95,522.65 L260.16,521.67 L260.37,520.69 L260.58,519.71 L260.78,518.73 L260.99,517.75 L261.19,516.77 L261.38,515.79 L261.58,514.81 L261.77,513.82 L261.95,512.84 L262.14,511.86 L262.32,510.88 L262.50,509.90 L262.68,508.92 L262.86,507.93 L263.03,506.95 L263.21,505.97 L263.38,504.98 L263.55,504.00 L263.71,503.02 L263.88,502.03 L264.05,501.05 L264.21,500.06 L264.37,499.08 L264.53,498.10 L264.69,497.11 L264.85,496.12 L265.00,495.14 L265.16,494.15 L265.31,493.17 L265.46,492.18 L265.61,491.20 L265.76,490.21 L265.91,489.22 L266.05,488.24 L266.20,487.25 L266.34,486.26 L266.48,485.27 L266.63,484.29 L266.77,483.30 L266.90,482.31 L267.04,481.32 L267.18,480.33 L267.31,479.35 L267.45,478.36 L267.58,477.37 L267.71,476.38 L267.84,475.39 L267.97,474.40 L268.10,473.41 L268.23,472.42 L268.35,471.43 L268.48,470.44 L268.60,469.45 L268.73,468.46 L268.85,467.47 L268.97,466.48 L269.09,465.49 L269.21,464.50 L269.33,463.51 L269.45,462.52 L269.57,461.53 L269.68,460.53 L269.80,459.54 L269.91,458.55 L270.02,457.56 L270.14,456.57 L270.25,455.58 L270.36,454.58 L270.47,453.59 L270.58,452.60 L270.69,451.61 L270.80,450.61 L270.91,449.62 L271.01,448.63 L271.12,447.63 L271.22,446.64 L271.33,445.65 L271.43,444.65 L271.54,443.66 L271.64,442.67 L271.74,441.67 L271.85,440.68 L271.95,439.68 L272.05,438.69 L272.15,437.70 L272.25,436.70 L272.35,435.71 L272.45,434.71 L272.55,433.72 L272.64,432.72 L272.74,431.73 L272.84,430.73 L272.94,429.74 L273.03,428.74 L273.13,427.75 L273.23,426.75 L273.32,425.76 L273.42,424.76 L273.51,423.77 L273.61,422.77 L273.70,421.78 L273.80,420.78 L273.89,419.79 L273.99,418.79 L274.08,417.79 L274.17,416.80 L274.27,415.80 L274.36,414.81 L274.46,413.81 L274.55,412.81 L274.64,411.82 L274.73,410.82 L274.83,409.83 L274.92,408.83 L275.01,407.83 L275.11,406.84 L275.20,405.84 L275.29,404.84 L275.39,403.85 L275.48,402.85 L275.57,401.85 L275.67,400.86 L275.76,399.86 L275.85,398.86 L275.95,397.87 L276.04,396.87 L276.14,395.88 L276.23,394.88 L276.32,393.88 L276.42,392.88 L276.51,391.89 L276.61,390.89 L276.70,389.89 L276.80,388.90 L276.90,387.90 L276.99,386.90 L277.09,385.91 L277.19,384.91 L277.28,383.91 L277.38,382.92 L277.48,381.92 L277.58,380.92 L277.68,379.93 L277.78,378.93 L277.88,377.93 L277.98,376.94 L278.08,375.94 L278.18,374.94 L278.28,373.95 L278.38,372.95 L278.48,371.95 L278.59,370.96 L278.69,369.96 L278.79,368.96 L278.90,367.97 L279.00,366.97 L279.10,365.98 L279.21,364.98 L279.31,363.98 L279.42,362.99 L279.53,361.99 L279.63,361.00 L279.74,360.00 L279.85,359.01 L279.95,358.01 L280.06,357.02 L280.17,356.02 L280.28,355.03 L280.38,354.03 L280.49,353.04 L280.60,352.04 L280.71,351.05 L280.82,350.05 L280.93,349.06 L281.04,348.07 L281.15,347.07 L281.26,346.08 L281.37,345.09 L281.48,344.09 L281.59,343.10 L281.70,342.11 L281.81,341.11 L281.92,340.12 L282.03,339.13 L282.15,338.14 L282.26,337.15 L282.37,336.16 L282.48,335.16 L282.59,334.17 L282.70,333.18 L282.82,332.19 L282.93,331.20 L283.04,330.21 L283.16,329.22 L283.27,328.23 L283.38,327.25 L283.49,326.26 L283.61,325.27 L283.72,324.28 L283.83,323.29 L283.95,322.30 L284.06,321.32 L284.17,320.33 L284.29,319.34 L284.40,318.36 L284.51,317.37 L284.63,316.39 L284.74,315.40 L284.85,314.42 L284.97,313.43 L285.08,312.45 L285.19,311.46 L285.31,310.48 L285.42,309.50 L285.53,308.51 L285.65,307.53 L285.76,306.55 L285.87,305.57 L285.99,304.59 L286.11,303.60 L286.23,302.62 L286.35,301.64 L286.47,300.65 L286.59,299.67 L286.72,298.69 L286.85,297.70 L286.99,296.71 L287.13,295.73 L287.27,294.74 L287.42,293.75 L287.57,292.76 L287.72,291.77 L287.88,290.77 L288.05,289.78 L288.22,288.78 L288.40,287.78 L288.59,286.78 L288.78,285.77 L288.98,284.77 L289.18,283.76 L289.40,282.75 L289.62,281.74 L289.85,280.72 L290.09,279.70 L290.33,278.68 L290.59,277.66 L290.85,276.63 L291.13,275.60 L291.41,274.57 L291.70,273.53 L292.01,272.49 L292.33,271.45 L292.67,270.46 L293.06,269.56 L293.51,268.78 L294.02,268.18 L294.62,267.78 L295.32,267.64 L296.12,267.78 L296.97,268.17 L297.84,268.75 L298.65,269.49 L299.35,270.34 L299.91,271.25 L300.31,272.20 L300.61,273.18 L300.83,274.18 L301.00,275.20 L301.17,276.21 L301.34,277.22 L301.52,278.22 L301.69,279.22 L301.87,280.21 L302.06,281.20 L302.24,282.19 L302.43,283.18 L302.62,284.16 L302.81,285.14 L303.00,286.12 L303.19,287.10 L303.38,288.07 L303.57,289.05 L303.76,290.03 L303.95,291.00 L304.13,291.98 L304.32,292.96 L304.50,293.93 L304.68,294.91 L304.86,295.89 L305.04,296.87 L305.21,297.85 L305.39,298.83 L305.56,299.81 L305.74,300.79 L305.91,301.77 L306.08,302.75 L306.24,303.73 L306.41,304.71 L306.58,305.70 L306.74,306.68 L306.90,307.66 L307.07,308.65 L307.23,309.63 L307.39,310.62 L307.55,311.60 L307.70,312.59 L307.86,313.57 L308.02,314.56 L308.17,315.54 L308.32,316.53 L308.48,317.52 L308.63,318.50 L308.78,319.49 L308.93,320.48 L309.08,321.46 L309.23,322.45 L309.38,323.44 L309.52,324.43 L309.67,325.42 L309.82,326.41 L309.96,327.40 L310.11,328.38 L310.25,329.37 L310.39,330.36 L310.54,331.35 L310.68,332.34 L310.82,333.33 L310.96,334.32 L311.11,335.31 L311.25,336.30 L311.39,337.29 L311.53,338.28 L311.67,339.28 L311.81,340.27 L311.95,341.26 L312.09,342.25 L312.23,343.24 L312.37,344.23 L312.51,345.22 L312.65,346.21 L312.79,347.20 L312.93,348.20 L313.07,349.19 L313.21,350.18 L313.35,351.17 L313.49,352.16 L313.63,353.15 L313.77,354.14 L313.91,355.13 L314.05,356.13 L314.19,357.12 L314.33,358.11 L314.47,359.10 L314.62,360.09 L314.76,361.08 L314.90,362.07 L315.05,363.06 L315.19,364.05 L315.33,365.04 L315.48,366.03 L315.63,367.02 L315.77,368.01 L315.92,369.00 L316.07,369.99 L316.22,370.98 L316.36,371.97 L316.51,372.96 L316.67,373.95 L316.82,374.94 L316.97,375.93 L317.12,376.92 L317.28,377.90 L317.43,378.89 L317.59,379.88 L317.75,380.87 L317.91,381.85 L318.07,382.84 L318.23,383.83 L318.39,384.81 L318.55,385.80 L318.72,386.78 L318.88,387.77 L319.05,388.75 L319.22,389.74 L319.39,390.72 L319.56,391.71 L319.73,392.69 L319.90,393.67 L320.08,394.66 L320.25,395.64 L320.43,396.62 L320.61,397.60 L320.79,398.59 L320.98,399.57 L321.16,400.55 L321.35,401.53 L321.53,402.51 L321.72,403.49 L321.92,404.46 L322.11,405.44 L322.30,406.42 L322.50,407.40 L322.70,408.37 L322.90,409.35 L323.10,410.33 L323.31,411.30 L323.51,412.28 L323.72,413.25 L323.93,414.22 L324.14,415.20 L324.36,416.17 L324.58,417.14 L324.79,418.11 L325.02,419.08 L325.24,420.05 L325.47,421.02 L325.70,421.99 L325.93,422.96 L326.16,423.93 L326.40,424.90 L326.64,425.87 L326.88,426.84 L327.13,427.80 L327.38,428.77 L327.63,429.74 L327.88,430.70 L328.14,431.67 L328.40,432.63 L328.66,433.60 L328.93,434.57 L329.20,435.53 L329.48,436.49 L329.75,437.46 L330.04,438.42 L330.32,439.39 L330.61,440.35 L330.90,441.32 L331.20,442.28 L331.50,443.24 L331.80,444.21 L332.11,445.17 L332.42,446.13 L332.74,447.10 L333.06,448.06 L333.38,449.02 L333.71,449.98 L334.06,450.94 L334.42,451.88 L334.80,452.82 L335.21,453.74 L335.64,454.64 L336.12,455.52 L336.63,456.38 L337.19,457.21 L337.79,458.01 L338.45,458.77 L339.17,459.50 L339.93,460.19 L340.73,460.82 L341.57,461.41 L342.45,461.95 L343.35,462.42 L344.27,462.84 L345.21,463.18 L346.16,463.46 L347.11,463.65 L348.06,463.77 L349.01,463.81 L349.95,463.75 L350.87,463.61 L351.78,463.39 L352.67,463.10 L353.55,462.73 L354.42,462.30 L355.28,461.81 L356.12,461.27 L356.94,460.69 L357.76,460.06 L358.55,459.40 L359.34,458.72 L360.11,458.01 L360.87,457.28 L361.62,456.54 L362.35,455.80 L363.07,455.05 L363.77,454.29 L364.47,453.53 L365.15,452.77 L365.82,452.00 L366.48,451.23 L367.13,450.45 L367.77,449.66 L368.39,448.88 L369.01,448.08 L369.62,447.29 L370.22,446.49 L370.82,445.68 L371.40,444.88 L371.98,444.07 L372.55,443.25 L373.11,442.43 L373.67,441.61 L374.22,440.79 L374.76,439.96 L375.30,439.13 L375.83,438.30 L376.36,437.46 L376.89,436.63 L377.41,435.79 L377.93,434.94 L378.45,434.10 L378.96,433.26 L379.47,432.41 L379.98,431.56 L380.49,430.71 L380.99,429.86 L381.50,429.00 L382.00,428.15 L382.50,427.29 L383.01,426.44 L383.51,425.58 L384.01,424.72 L384.51,423.86 L385.00,423.00 L385.50,422.14 L386.00,421.27 L386.50,420.41 L386.99,419.54 L387.49,418.68 L387.98,417.81 L388.48,416.95 L388.97,416.08 L389.47,415.21 L389.96,414.34 L390.45,413.47 L390.95,412.60 L391.44,411.73 L391.93,410.86 L392.43,409.99 L392.92,409.12 L393.41,408.25 L393.91,407.38 L394.40,406.51 L394.89,405.64 L395.39,404.76 L395.88,403.89 L396.38,403.02 L396.87,402.15 L397.37,401.28 L397.86,400.41 L398.36,399.54 L398.86,398.67 L399.36,397.80 L399.85,396.93 L400.35,396.06 L400.85,395.19 L401.36,394.32 L401.86,393.45 L402.36,392.58 L402.86,391.72 L403.37,390.85 L403.88,389.98 L404.38,389.12 L404.89,388.26 L405.40,387.39 L405.91,386.53 L406.42,385.67 L406.94,384.81 L407.45,383.95 L407.97,383.09 L408.49,382.23 L409.01,381.38 L409.53,380.52 L410.05,379.67 L410.58,378.82 L411.10,377.97 L411.63,377.12 L412.16,376.27 L412.69,375.42 L413.22,374.57 L413.76,373.73 L414.29,372.88 L414.83,372.04 L415.37,371.20 L415.91,370.36 L416.45,369.52 L417.00,368.68 L417.54,367.85 L418.09,367.01 L418.64,366.18 L419.19,365.34 L419.74,364.51 L420.30,363.68 L420.85,362.85 L421.41,362.02 L421.97,361.20 L422.53,360.37 L423.10,359.55 L423.66,358.73 L424.23,357.91 L424.80,357.09 L425.37,356.27 L425.94,355.45 L426.52,354.64 L427.09,353.82 L427.67,353.01 L428.25,352.20 L428.83,351.39 L429.42,350.58 L430.00,349.77 L430.59,348.97 L431.18,348.16 L431.78,347.36 L432.37,346.56 L432.97,345.76 L433.56,344.96 L434.16,344.17 L434.77,343.37 L435.37,342.58 L435.98,341.79 L436.59,341.00 L437.20,340.21 L437.81,339.42 L438.43,338.64 L439.04,337.85 L439.66,337.07 L440.28,336.29 L440.90,335.51 L441.53,334.73 L442.15,333.95 L442.78,333.17 L443.41,332.40 L444.04,331.62 L444.67,330.85 L445.31,330.08 L445.94,329.31 L446.58,328.54 L447.21,327.76 L447.85,326.99 L448.49,326.23 L449.13,325.46 L449.77,324.69 L450.41,323.92 L451.05,323.15 L451.70,322.39 L452.34,321.62 L452.98,320.85 L453.63,320.09 L454.27,319.32 L454.92,318.55 L455.56,317.79 L456.21,317.02 L456.85,316.25 L457.50,315.48 L458.15,314.72 L458.79,313.95 L459.44,313.18 L460.08,312.41 L460.73,311.64 L461.38,310.87 L462.02,310.10 L462.67,309.34 L463.32,308.57 L463.97,307.81 L464.62,307.04 L465.28,306.29 L465.94,305.53 L466.60,304.78 L467.27,304.03 L467.94,303.28 L468.61,302.55 L469.29,301.81 L469.98,301.09 L470.67,300.36 L471.37,299.65 L472.07,298.94 L472.78,298.24 L473.49,297.55 L474.22,296.87 L474.95,296.19 L475.68,295.52 L476.42,294.85 L477.17,294.20 L477.92,293.55 L478.68,292.91 L479.45,292.28 L480.22,291.66 L481.00,291.04 L481.79,290.43 L482.58,289.83 L483.38,289.24 L484.19,288.66 L485.00,288.09 L485.82,287.53 L486.65,286.97 L487.48,286.43 L488.32,285.89 L489.16,285.36 L490.02,284.85 L490.88,284.34 L491.74,283.84 L492.61,283.35 L493.49,282.87 L494.38,282.40 L495.27,281.94 L496.17,281.49 L497.08,281.06 L497.99,280.63 L498.91,280.21 L499.84,279.80 L500.77,279.41 L501.70,279.02 L502.65,278.65 L503.59,278.28 L504.54,277.93 L505.49,277.59 L506.45,277.27 L507.41,276.95 L508.37,276.65 L509.34,276.35 L510.30,276.07 L511.27,275.81 L512.24,275.55 L513.21,275.31 L514.19,275.08 L515.16,274.86 L516.14,274.65 L517.12,274.46 L518.10,274.27 L519.08,274.10 L520.06,273.94 L521.04,273.78 L522.03,273.64 L523.01,273.51 L524.00,273.39 L524.99,273.28 L525.98,273.18 L526.97,273.09 L527.96,273.01 L528.95,272.94 L529.94,272.88 L530.93,272.83 L531.93,272.79 L532.92,272.76 L533.91,272.74 L534.91,272.72 L535.91,272.72 L536.90,272.72 L537.90,272.73 L538.90,272.75 L539.89,272.78 L540.89,272.81 L541.89,272.86 L542.88,272.91 L543.88,272.97 L544.88,273.03 L545.88,273.11 L546.87,273.19 L547.87,273.27 L548.87,273.37 L549.86,273.47 L550.86,273.58 L551.85,273.69 L552.85,273.81 L553.84,273.94 L554.84,274.07 L555.83,274.21 L556.82,274.35 L557.82,274.50 L558.81,274.66 L559.80,274.82 L560.79,274.98 L561.77,275.15 L562.76,275.33 L563.75,275.51 L564.73,275.69 L565.72,275.88 L566.70,276.07 L567.69,276.26 L568.67,276.45 L569.65,276.65 L570.63,276.85 L571.62,277.05 L572.60,277.25 L573.58,277.45 L574.56,277.65 L575.54,277.86 L576.52,278.06 L577.50,278.26 L578.48,278.45 L579.46,278.65 L580.44,278.84 L581.42,279.04 L582.40,279.22 L583.38,279.41 L584.36,279.59 L585.35,279.77 L586.33,279.94 L587.31,280.11 L588.29,280.27 L589.28,280.43 L590.26,280.58 L591.25,280.73 L592.23,280.86 L593.22,280.99 L594.21,281.12 L595.20,281.23 L596.19,281.34 L597.18,281.44 L598.17,281.52 L599.16,281.60 L600.16,281.67 L601.15,281.73 L602.15,281.79 L603.15,281.83 L604.15,281.86 L605.14,281.88 L606.14,281.90 L607.14,281.90 L608.14,281.90 L609.14,281.89 L610.14,281.87 L611.14,281.84 L612.14,281.80 L613.14,281.75 L614.15,281.69 L615.15,281.63 L616.15,281.55 L617.14,281.47" stroke="#ED7D31" stroke-dasharray="10.2 7.63" pathLength="1208.56"/>
<path d="M617.14,281.47 L618.14,281.38 L619.14,281.28 L620.14,281.17 L621.14,281.05 L622.13,280.93 L623.13,280.79 L624.12,280.65 L625.11,280.50 L626.10,280.34 L627.09,280.18 L628.08,280.00 L629.07,279.82 L630.06,279.63 L631.04,279.43 L632.02,279.22 L633.00,279.00 L633.98,278.78 L634.96,278.55 L635.93,278.31 L636.90,278.07 L637.87,277.81 L638.84,277.55 L639.81,277.28 L640.77,277.00 L641.73,276.72 L642.68,276.43 L643.64,276.13 L644.59,275.82 L645.54,275.51 L646.48,275.19 L647.43,274.86 L648.37,274.52 L649.30,274.18 L650.24,273.83 L651.17,273.48 L652.10,273.11 L653.02,272.74 L653.95,272.37 L654.87,271.99 L655.79,271.60 L656.70,271.21 L657.62,270.81 L658.53,270.40 L659.43,269.99 L660.34,269.57 L661.24,269.15 L662.14,268.72 L663.04,268.29 L663.94,267.85 L664.83,267.40 L665.72,266.95 L666.61,266.50 L667.50,266.04 L668.38,265.57 L669.26,265.11 L670.14,264.63 L671.02,264.15 L671.89,263.67 L672.77,263.18 L673.64,262.69 L674.51,262.19 L675.37,261.69 L676.24,261.19 L677.10,260.68 L677.96,260.17 L678.82,259.66 L679.67,259.14 L680.53,258.61 L681.38,258.09 L682.23,257.56 L683.08,257.03 L683.92,256.49 L684.77,255.95 L685.61,255.41 L686.45,254.86 L687.29,254.32 L688.12,253.77 L688.96,253.21 L689.79,252.66 L690.62,252.10 L691.45,251.54 L692.28,250.98 L693.11,250.41 L693.93,249.85 L694.75,249.28 L695.58,248.71 L696.39,248.14 L697.21,247.56 L698.03,246.98 L698.84,246.40 L699.66,245.82 L700.47,245.24 L701.28,244.65 L702.09,244.07 L702.89,243.48 L703.70,242.89 L704.50,242.29 L705.30,241.70 L706.10,241.10 L706.90,240.50 L707.70,239.90 L708.49,239.30 L709.29,238.69 L710.08,238.09 L710.87,237.48 L711.66,236.87 L712.45,236.25 L713.24,235.64 L714.02,235.02 L714.81,234.41 L715.59,233.79 L716.37,233.17 L717.15,232.54 L717.93,231.92 L718.71,231.29 L719.49,230.67 L720.26,230.04 L721.04,229.40 L721.81,228.77 L722.58,228.14 L723.35,227.50 L724.12,226.87 L724.88,226.23 L725.65,225.59 L726.42,224.94 L727.18,224.30 L727.94,223.66 L728.70,223.01 L729.46,222.36 L730.22,221.71 L730.98,221.06 L731.74,220.41 L732.49,219.76 L733.25,219.10 L734.00,218.45 L734.75,217.79 L735.50,217.13 L736.25,216.47 L737.00,215.81 L737.75,215.15 L738.50,214.48 L739.24,213.82 L739.99,213.15 L740.73,212.48 L741.47,211.81 L742.22,211.14 L742.96,210.47 L743.70,209.80 L744.44,209.13 L745.18,208.45 L745.91,207.78 L746.65,207.10 L747.38,206.42 L748.12,205.75 L748.85,205.07 L749.59,204.39 L750.32,203.70 L751.05,203.02 L751.78,202.34 L752.51,201.65 L753.24,200.97 L753.97,200.28 L754.69,199.60 L755.42,198.91 L756.14,198.22 L756.87,197.53 L757.59,196.84 L758.32,196.15 L759.04,195.46 L759.76,194.76 L760.48,194.07 L761.20,193.38 L761.92,192.68 L762.64,191.99 L763.36,191.29 L764.08,190.59 L764.80,189.89 L765.52,189.20 L766.23,188.50 L766.95,187.80 L767.66,187.10 L768.38,186.40 L769.09,185.70 L769.81,185.00 L770.52,184.29 L771.23,183.59 L771.94,182.89 L772.65,182.18 L773.37,181.48 L774.08,180.78 L774.79,180.07 L775.50,179.36 L776.21,178.66 L776.92,177.95 L777.62,177.25 L778.33,176.54 L779.04,175.83 L779.75,175.13 L780.45,174.42 L781.16,173.71 L781.87,173.00 L782.57,172.29 L783.28,171.59 L783.99,170.88 L784.69,170.17 L785.40,169.46 L786.10,168.75 L786.80,168.04 L787.51,167.33 L788.21,166.62 L788.92,165.91 L789.62,165.20 L790.32,164.49 L791.03,163.78 L791.73,163.07 L792.43,162.36 L793.13,161.65 L793.84,160.94 L794.54,160.22 L795.24,159.51 L795.94,158.80 L796.64,158.09 L797.34,157.38 L798.04,156.67 L798.74,155.95 L799.44,155.24 L800.14,154.53 L800.84,153.82 L801.54,153.10 L802.24,152.39 L802.94,151.68 L803.64,150.96 L804.34,150.25 L805.04,149.54 L805.73,148.82 L806.43,148.11 L807.13,147.39 L807.83,146.68 L808.53,145.97 L809.22,145.25 L809.92,144.54 L810.62,143.82 L811.31,143.11 L812.01,142.39 L812.71,141.68 L813.40,140.96 L814.10,140.24 L814.80,139.53 L815.49,138.81 L816.19,138.10 L816.88,137.38 L817.58,136.66 L818.27,135.95 L818.97,135.23 L819.66,134.51 L820.36,133.80 L821.05,133.08 L821.75,132.36 L822.44,131.64 L823.14,130.93 L823.83,130.21 L824.52,129.49 L825.22,128.77 L825.91,128.05 L826.61,127.33 L827.30,126.62 L827.99,125.90 L828.69,125.18 L829.38,124.46 L830.07,123.74 L830.77,123.02 L831.46,122.30 L832.15,121.58 L832.84,120.86 L833.54,120.14 L834.23,119.42 L834.92,118.70 L835.61,117.98 L836.31,117.26 L837.00,116.54 L837.69,115.82 L838.38,115.10 L839.07,114.37 L839.77,113.65 L840.46,112.93 L841.15,112.21 L841.84,111.49 L842.53,110.77 L843.23,110.04 L843.92,109.32 L844.61,108.60 L845.30,107.88 L845.99,107.15 L846.68,106.43 L847.38,105.71 L848.07,104.98 L848.76,104.26 L849.45,103.54 L850.14,102.81 L850.83,102.09 L851.52,101.37 L852.21,100.64 L852.91,99.92 L853.60,99.19 L854.29,98.47 L854.98,97.74 L855.67,97.02 L856.36,96.29 L857.05,95.57 L857.74,94.84 L858.44,94.12" stroke="#ED7D31" stroke-dasharray="10.2 7.63" stroke-dashoffset="13.95"/>
<path d="M110.59,605.28 L111.53,604.97 L112.47,604.66 L113.41,604.36 L114.35,604.06 L115.30,603.76 L116.24,603.47 L117.18,603.17 L118.13,602.89 L119.08,602.60 L120.02,602.32 L120.97,602.04 L121.92,601.77 L122.87,601.49 L123.82,601.22 L124.78,600.96 L125.73,600.70 L126.68,600.44 L127.64,600.18 L128.59,599.93 L129.55,599.68 L130.51,599.43 L131.46,599.19 L132.42,598.95 L133.38,598.72 L134.34,598.49 L135.31,598.26 L136.27,598.03 L137.23,597.81 L138.20,597.59 L139.16,597.38 L140.13,597.16 L141.09,596.95 L142.06,596.75 L143.03,596.55 L143.99,596.35 L144.96,596.16 L145.93,595.97 L146.90,595.78 L147.87,595.59 L148.85,595.41 L149.82,595.24 L150.79,595.06 L151.77,594.89 L152.74,594.73 L153.72,594.57 L154.69,594.41 L155.67,594.25 L156.64,594.10 L157.62,593.95 L158.60,593.81 L158.57,592.79 L158.53,591.78 L158.50,590.77 L158.47,589.76 L158.45,588.76 L158.44,587.75 L158.44,586.74 L158.45,585.74 L158.46,584.74 L158.47,583.73 L158.50,582.73 L158.52,581.73 L158.56,580.73 L158.60,579.73 L158.65,578.73 L158.70,577.73 L158.76,576.74 L158.82,575.74 L158.88,574.74 L158.95,573.75 L159.03,572.75 L159.11,571.76 L159.20,570.76 L159.28,569.77 L159.38,568.78 L159.47,567.79 L159.57,566.79 L159.67,565.80 L159.78,564.81 L159.89,563.82 L160.00,562.83 L160.11,561.84 L160.23,560.85 L160.34,559.86 L160.46,558.87 L160.59,557.88 L160.71,556.89 L160.84,555.90 L160.96,554.91 L161.09,553.93 L161.22,552.94 L161.35,551.95 L161.48,550.96 L161.61,549.97 L161.74,548.98 L161.87,547.99 L162.00,547.00 L162.13,546.01 L162.26,545.02 L162.39,544.03 L162.52,543.04 L162.65,542.05 L162.78,541.06 L162.90,540.07 L163.03,539.08 L163.15,538.08 L163.27,537.09 L163.39,536.10 L163.50,535.11 L163.62,534.11 L163.73,533.12 L163.84,532.12 L163.94,531.13 L164.05,530.13 L164.15,529.13 L164.24,528.13 L164.34,527.14 L164.43,526.14 L164.51,525.14 L164.60,524.14 L164.68,523.14 L164.76,522.13 L164.84,521.13 L164.92,520.13 L165.00,519.13 L165.08,518.13 L165.16,517.13 L165.24,516.13 L165.33,515.13 L165.41,514.13 L165.50,513.13 L165.59,512.13 L165.68,511.13 L165.77,510.14 L165.87,509.14 L165.97,508.14 L166.08,507.15 L166.19,506.16 L166.30,505.16 L166.42,504.17 L166.55,503.18 L166.68,502.19 L166.82,501.21 L166.97,500.22 L167.12,499.24 L167.28,498.26 L167.45,497.28 L167.63,496.30 L167.82,495.32 L168.01,494.35 L168.22,493.38 L168.44,492.41 L168.66,491.44 L168.90,490.48 L169.15,489.56 L169.49,489.01 L169.95,489.14 L170.50,489.85 L171.02,490.88 L171.44,491.97 L171.74,493.05 L171.95,494.12 L172.08,495.17 L172.15,496.21 L172.20,497.23 L172.25,498.25 L172.30,499.26 L172.37,500.25 L172.45,501.24 L172.53,502.23 L172.62,503.21 L172.72,504.19 L172.82,505.16 L172.93,506.14 L173.04,507.12 L173.15,508.10 L173.27,509.08 L173.38,510.07 L173.50,511.07 L173.61,512.07 L173.73,513.07 L173.85,514.07 L173.96,515.08 L174.08,516.09 L174.19,517.10 L174.30,518.10 L174.42,519.11 L174.53,520.12 L174.64,521.12 L174.74,522.12 L174.85,523.12 L174.95,524.12 L175.06,525.11 L175.16,526.09 L175.25,527.07 L175.35,528.04 L175.44,529.01 L175.53,529.96 L175.61,530.91 L175.70,531.86 L175.80,532.81 L175.92,533.77 L176.06,534.75 L176.23,535.74 L176.45,536.77 L176.70,537.83 L177.01,538.94 L177.38,540.06 L177.81,541.09 L178.30,541.86 L178.87,542.24 L179.49,542.13 L180.16,541.61 L180.86,540.80 L181.56,539.80 L182.24,538.72 L182.89,537.66 L183.50,536.69 L184.06,535.79 L184.61,534.95 L185.14,534.15 L185.67,533.38 L186.20,532.62 L186.74,531.87 L187.31,531.11 L187.92,530.32 L188.57,529.49 L189.27,528.63 L190.01,527.76 L190.79,526.93 L191.61,526.19 L192.45,525.58 L193.30,525.14 L194.17,524.92 L195.03,524.95 L195.89,525.25 L196.74,525.74 L197.56,526.35 L198.35,527.03 L199.10,527.73 L199.81,528.46 L200.49,529.22 L201.14,529.99 L201.75,530.78 L202.34,531.59 L202.90,532.42 L203.43,533.27 L203.94,534.13 L204.43,535.00 L204.90,535.89 L205.35,536.78 L205.79,537.68 L206.21,538.59 L206.63,539.51 L207.03,540.43 L207.43,541.36 L207.82,542.28 L208.20,543.21 L208.59,544.13 L208.97,545.06 L209.35,545.98 L209.74,546.90 L210.13,547.82 L210.52,548.74 L210.92,549.65 L211.33,550.55 L211.75,551.45 L212.18,552.35 L212.62,553.24 L213.07,554.12 L213.54,555.00 L214.02,555.86 L214.52,556.72 L215.04,557.57 L215.58,558.41 L216.14,559.24 L216.73,560.06 L217.34,560.86 L217.97,561.66 L218.63,562.44 L219.32,563.21 L220.04,563.96 L220.79,564.69 L221.56,565.40 L222.35,566.08 L223.16,566.72 L224.00,567.32 L224.85,567.88 L225.72,568.39 L226.60,568.85 L227.50,569.25 L228.41,569.59 L229.33,569.87 L230.26,570.07 L231.19,570.19 L232.13,570.24 L233.08,570.21 L234.02,570.10 L234.97,569.92 L235.91,569.67 L236.84,569.36 L237.77,568.99 L238.70,568.58 L239.61,568.11 L240.51,567.60 L241.39,567.06 L242.26,566.48 L243.11,565.87 L243.94,565.24 L244.74,564.59 L245.52,563.93 L246.28,563.24 L247.02,562.54 L247.73,561.83 L248.43,561.10 L249.10,560.36 L249.75,559.61 L250.39,558.84 L251.00,558.06 L251.60,557.26 L252.17,556.46 L252.73,555.64 L253.28,554.81 L253.80,553.97 L254.31,553.12 L254.81,552.26 L255.29,551.39 L255.75,550.52 L256.21,549.63 L256.64,548.74 L257.07,547.84 L257.48,546.93 L257.89,546.01 L258.28,545.09 L258.66,544.17 L259.03,543.23 L259.39,542.30 L259.74,541.36 L260.08,540.41 L260.41,539.46 L260.74,538.51 L261.06,537.56 L261.37,536.60 L261.68,535.64 L261.98,534.69 L262.28,533.73 L262.57,532.77 L262.86,531.80 L263.14,530.84 L263.42,529.88 L263.69,528.91 L263.96,527.95 L264.23,526.98 L264.49,526.02 L264.74,525.05 L264.99,524.08 L265.24,523.11 L265.49,522.14 L265.72,521.17 L265.96,520.20 L266.19,519.23 L266.42,518.26 L266.64,517.28 L266.86,516.31 L267.08,515.34 L267.29,514.36 L267.50,513.39 L267.71,512.41 L267.91,511.43 L268.11,510.45 L268.31,509.48 L268.50,508.50 L268.69,507.52 L268.88,506.54 L269.07,505.56 L269.25,504.58 L269.43,503.59 L269.61,502.61 L269.78,501.63 L269.95,500.65 L270.12,499.66 L270.29,498.68 L270.46,497.70 L270.62,496.71 L270.78,495.73 L270.94,494.74 L271.10,493.75 L271.26,492.77 L271.41,491.78 L271.56,490.80 L271.71,489.81 L271.86,488.82 L272.01,487.83 L272.16,486.85 L272.31,485.86 L272.45,484.87 L272.59,483.88 L272.74,482.89 L272.88,481.90 L273.02,480.91 L273.15,479.92 L273.29,478.93 L273.43,477.94 L273.56,476.95 L273.70,475.96 L273.83,474.97 L273.96,473.98 L274.09,472.99 L274.22,472.00 L274.35,471.00 L274.48,470.01 L274.61,469.02 L274.74,468.03 L274.86,467.04 L274.99,466.04 L275.11,465.05 L275.24,464.06 L275.36,463.07 L275.48,462.07 L275.60,461.08 L275.72,460.09 L275.84,459.10 L275.96,458.10 L276.08,457.11 L276.20,456.12 L276.32,455.12 L276.43,454.13 L276.55,453.13 L276.67,452.14 L276.78,451.15 L276.90,450.15 L277.01,449.16 L277.13,448.17 L277.24,447.17 L277.36,446.18 L277.47,445.18 L277.58,444.19 L277.70,443.20 L277.81,442.20 L277.92,441.21 L278.03,440.21 L278.15,439.22 L278.26,438.23 L278.37,437.23 L278.48,436.24 L278.59,435.25 L278.70,434.25 L278.82,433.26 L278.93,432.27 L279.04,431.27 L279.15,430.28 L279.26,429.28 L279.37,428.29 L279.48,427.30 L279.59,426.30 L279.70,425.31 L279.81,424.32 L279.92,423.32 L280.03,422.33 L280.14,421.34 L280.25,420.34 L280.36,419.35 L280.47,418.36 L280.58,417.36 L280.69,416.37 L280.80,415.38 L280.91,414.38 L281.02,413.39 L281.13,412.40 L281.24,411.40 L281.35,410.41 L281.45,409.42 L281.56,408.42 L281.67,407.43 L281.78,406.44 L281.89,405.44 L282.00,404.45 L282.11,403.46 L282.22,402.46 L282.33,401.47 L282.44,400.48 L282.55,399.48 L282.66,398.49 L282.76,397.50 L282.87,396.50 L282.98,395.51 L283.09,394.52 L283.20,393.52 L283.31,392.53 L283.42,391.54 L283.53,390.55 L283.64,389.55 L283.75,388.56 L283.86,387.57 L283.97,386.57 L284.08,385.58 L284.19,384.59 L284.30,383.59 L284.41,382.60 L284.52,381.61 L284.63,380.61 L284.74,379.62 L284.86,378.63 L284.97,377.64 L285.08,376.64 L285.19,375.65 L285.30,374.66 L285.41,373.66 L285.52,372.67 L285.64,371.68 L285.75,370.68 L285.86,369.69 L285.97,368.70 L286.09,367.71 L286.20,366.71 L286.31,365.72 L286.43,364.73 L286.54,363.73 L286.65,362.74 L286.77,361.75 L286.88,360.75 L287.00,359.76 L287.11,358.77 L287.23,357.78 L287.34,356.78 L287.46,355.79 L287.57,354.80 L287.69,353.80 L287.81,352.81 L287.92,351.82 L288.04,350.82 L288.16,349.83 L288.27,348.84 L288.39,347.84 L288.51,346.85 L288.63,345.86 L288.75,344.87 L288.87,343.87 L288.99,342.88 L289.11,341.89 L289.23,340.89 L289.35,339.90 L289.47,338.91 L289.59,337.91 L289.71,336.92 L289.83,335.93 L289.95,334.93 L290.08,333.94 L290.20,332.95 L290.32,331.95 L290.45,330.96 L290.57,329.97 L290.70,328.97 L290.82,327.98 L290.95,326.99 L291.07,325.99 L291.20,325.00 L291.32,324.01 L291.45,323.01 L291.58,322.02 L291.71,321.03 L291.83,320.03 L291.96,319.04 L292.09,318.05 L292.22,317.05 L292.35,316.06 L292.49,315.07 L292.62,314.08 L292.75,313.08 L292.89,312.09 L293.03,311.10 L293.17,310.11 L293.31,309.12 L293.45,308.13 L293.60,307.15 L293.74,306.16 L293.90,305.17 L294.05,304.19 L294.21,303.20 L294.37,302.22 L294.53,301.24 L294.70,300.26 L294.87,299.28 L295.04,298.31 L295.22,297.33 L295.40,296.36 L295.59,295.39 L295.78,294.42 L295.98,293.45 L296.18,292.48 L296.40,291.52 L296.63,290.55 L296.87,289.59 L297.12,288.62 L297.39,287.66 L297.68,286.69 L297.98,285.72 L298.30,284.76 L298.64,283.79 L299.01,282.82 L299.40,281.85 L299.81,280.87 L300.24,279.90 L300.71,278.93 L301.22,278.04 L301.79,277.28 L302.43,276.71 L303.16,276.40 L304.00,276.41 L304.91,276.75 L305.80,277.34 L306.59,278.09 L307.21,278.93 L307.68,279.82 L308.07,280.76 L308.41,281.71 L308.73,282.67 L309.04,283.63 L309.34,284.59 L309.63,285.55 L309.90,286.51 L310.17,287.47 L310.43,288.44 L310.68,289.40 L310.93,290.37 L311.16,291.34 L311.39,292.31 L311.61,293.28 L311.83,294.25 L312.04,295.23 L312.25,296.20 L312.45,297.18 L312.65,298.15 L312.85,299.13 L313.05,300.11 L313.24,301.09 L313.43,302.07 L313.62,303.05 L313.80,304.03 L313.99,305.02 L314.17,306.00 L314.35,306.98 L314.53,307.97 L314.70,308.95 L314.88,309.94 L315.05,310.93 L315.22,311.91 L315.39,312.90 L315.56,313.89 L315.73,314.87 L315.90,315.86 L316.06,316.85 L316.23,317.84 L316.39,318.82 L316.56,319.81 L316.72,320.80 L316.89,321.79 L317.05,322.77 L317.21,323.76 L317.37,324.75 L317.53,325.74 L317.69,326.72 L317.85,327.71 L318.01,328.70 L318.17,329.69 L318.33,330.67 L318.49,331.66 L318.65,332.65 L318.81,333.63 L318.97,334.62 L319.13,335.61 L319.29,336.59 L319.44,337.58 L319.60,338.57 L319.76,339.55 L319.92,340.54 L320.08,341.53 L320.24,342.51 L320.39,343.50 L320.55,344.48 L320.71,345.47 L320.87,346.46 L321.03,347.44 L321.19,348.43 L321.35,349.41 L321.50,350.40 L321.66,351.39 L321.82,352.37 L321.98,353.36 L322.15,354.34 L322.31,355.33 L322.47,356.31 L322.63,357.30 L322.79,358.28 L322.95,359.27 L323.12,360.25 L323.28,361.24 L323.45,362.22 L323.61,363.21 L323.78,364.19 L323.94,365.18 L324.11,366.16 L324.28,367.14 L324.45,368.13 L324.61,369.11 L324.78,370.10 L324.96,371.08 L325.13,372.07 L325.30,373.05 L325.47,374.03 L325.65,375.02 L325.82,376.00 L326.00,376.99 L326.17,377.97 L326.35,378.95 L326.53,379.94 L326.71,380.92 L326.89,381.90 L327.07,382.89 L327.26,383.87 L327.44,384.85 L327.63,385.84 L327.82,386.82 L328.00,387.80 L328.19,388.78 L328.38,389.77 L328.58,390.75 L328.77,391.73 L328.96,392.71 L329.16,393.70 L329.36,394.68 L329.56,395.66 L329.76,396.64 L329.96,397.63 L330.16,398.61 L330.37,399.59 L330.58,400.57 L330.78,401.55 L330.99,402.54 L331.21,403.52 L331.42,404.50 L331.63,405.48 L331.85,406.46 L332.07,407.44 L332.29,408.41 L332.51,409.39 L332.74,410.37 L332.96,411.35 L333.19,412.32 L333.42,413.30 L333.65,414.27 L333.89,415.24 L334.12,416.21 L334.36,417.18 L334.60,418.15 L334.84,419.12 L335.09,420.09 L335.33,421.05 L335.58,422.02 L335.83,422.98 L336.08,423.94 L336.34,424.90 L336.60,425.86 L336.86,426.81 L337.12,427.76 L337.38,428.72 L337.65,429.67 L337.92,430.61 L338.19,431.56 L338.47,432.50 L338.75,433.45 L339.04,434.39 L339.34,435.33 L339.65,436.26 L339.97,437.20 L340.30,438.13 L340.64,439.06 L340.99,439.99 L341.36,440.91 L341.75,441.84 L342.15,442.76 L342.56,443.68 L343.00,444.60 L343.46,445.51 L343.93,446.43 L344.43,447.34 L344.95,448.25 L345.50,449.15 L346.07,450.06 L346.66,450.96 L347.28,451.84 L347.92,452.71 L348.58,453.56 L349.27,454.37 L349.97,455.15 L350.69,455.89 L351.44,456.58 L352.20,457.22 L352.97,457.81 L353.76,458.32 L354.57,458.77 L355.39,459.14 L356.22,459.44 L357.07,459.64 L357.93,459.75 L358.79,459.77 L359.67,459.68 L360.55,459.51 L361.44,459.26 L362.33,458.94 L363.23,458.54 L364.12,458.09 L365.01,457.59 L365.89,457.04 L366.76,456.46 L367.63,455.84 L368.48,455.20 L369.33,454.55 L370.15,453.89 L370.96,453.22 L371.76,452.54 L372.55,451.85 L373.31,451.16 L374.07,450.46 L374.81,449.75 L375.54,449.03 L376.26,448.31 L376.96,447.58 L377.65,446.84 L378.33,446.10 L379.00,445.35 L379.66,444.59 L380.30,443.83 L380.94,443.06 L381.57,442.28 L382.18,441.50 L382.79,440.72 L383.38,439.92 L383.97,439.13 L384.55,438.32 L385.12,437.51 L385.68,436.70 L386.24,435.88 L386.78,435.06 L387.32,434.23 L387.85,433.40 L388.38,432.57 L388.90,431.73 L389.41,430.88 L389.92,430.03 L390.42,429.18 L390.92,428.33 L391.41,427.47 L391.90,426.61 L392.38,425.74 L392.86,424.87 L393.34,424.00 L393.81,423.13 L394.28,422.25 L394.75,421.38 L395.22,420.50 L395.68,419.61 L396.14,418.73 L396.60,417.84 L397.06,416.95 L397.52,416.06 L397.97,415.17 L398.43,414.28 L398.88,413.39 L399.34,412.49 L399.79,411.60 L400.25,410.70 L400.70,409.80 L401.16,408.91 L401.61,408.01 L402.07,407.11 L402.53,406.22 L402.98,405.32 L403.44,404.42 L403.90,403.53 L404.36,402.63 L404.82,401.74 L405.29,400.85 L405.76,399.95 L406.22,399.06 L406.69,398.18 L407.17,397.29 L407.64,396.40 L408.12,395.52 L408.60,394.64 L409.08,393.76 L409.57,392.88 L410.06,392.01 L410.56,391.14 L411.05,390.27 L411.55,389.40 L412.05,388.54 L412.56,387.67 L413.07,386.81 L413.58,385.95 L414.09,385.09 L414.60,384.24 L415.12,383.38 L415.64,382.53 L416.16,381.68 L416.68,380.83 L417.20,379.98 L417.73,379.13 L418.25,378.29 L418.78,377.44 L419.31,376.59 L419.84,375.75 L420.37,374.91 L420.90,374.06 L421.43,373.22 L421.96,372.38 L422.50,371.53 L423.03,370.69 L423.56,369.85 L424.10,369.00 L424.63,368.16 L425.16,367.32 L425.69,366.47 L426.23,365.63 L426.76,364.79 L427.29,363.94 L427.82,363.10 L428.36,362.25 L428.89,361.41 L429.42,360.56 L429.95,359.72 L430.48,358.87 L431.02,358.03 L431.55,357.18 L432.08,356.34 L432.61,355.49 L433.15,354.65 L433.68,353.80 L434.21,352.96 L434.75,352.11 L435.28,351.27 L435.81,350.42 L436.35,349.58 L436.88,348.73 L437.42,347.89 L437.95,347.04 L438.49,346.20 L439.02,345.35 L439.56,344.51 L440.09,343.67 L440.63,342.82 L441.17,341.98 L441.71,341.14 L442.24,340.29 L442.78,339.45 L443.32,338.61 L443.86,337.77 L444.40,336.92 L444.94,336.08 L445.49,335.24 L446.03,334.40 L446.57,333.56 L447.12,332.72 L447.66,331.88 L448.20,331.04 L448.75,330.21 L449.30,329.37 L449.85,328.53 L450.39,327.69 L450.94,326.86 L451.49,326.02 L452.04,325.19 L452.60,324.35 L453.15,323.52 L453.70,322.69 L454.26,321.85 L454.81,321.02 L455.37,320.19 L455.93,319.36 L456.49,318.53 L457.05,317.70 L457.61,316.87 L458.17,316.04 L458.73,315.22 L459.30,314.39 L459.86,313.57 L460.43,312.74 L461.00,311.92 L461.57,311.10 L462.14,310.28 L462.71,309.46 L463.28,308.64 L463.86,307.82 L464.43,307.00 L465.01,306.18 L465.59,305.37 L466.17,304.56 L466.75,303.74 L467.34,302.93 L467.92,302.12 L468.51,301.31 L469.10,300.50 L469.69,299.70 L470.28,298.89 L470.87,298.09 L471.47,297.28 L472.06,296.48 L472.66,295.68 L473.26,294.88 L473.86,294.09 L474.47,293.29 L475.07,292.50 L475.68,291.70 L476.29,290.91 L476.90,290.12 L477.51,289.33 L478.13,288.55 L478.74,287.76 L479.36,286.98 L479.98,286.20 L480.61,285.42 L481.23,284.64 L481.86,283.86 L482.49,283.08 L483.12,282.31 L483.75,281.54 L484.39,280.77 L485.02,280.00 L485.66,279.23 L486.31,278.47 L486.95,277.71 L487.60,276.95 L488.25,276.19 L488.90,275.43 L489.55,274.68 L490.21,273.92 L490.87,273.17 L491.53,272.42 L492.19,271.68 L492.86,270.93 L493.53,270.19 L494.20,269.45 L494.87,268.71 L495.55,267.97 L496.23,267.24 L496.91,266.51 L497.59,265.78 L498.28,265.05 L498.97,264.33 L499.66,263.60 L500.36,262.88 L501.06,262.17 L501.76,261.45 L502.46,260.74 L503.17,260.04 L503.88,259.33 L504.59,258.63 L505.31,257.93 L506.03,257.24 L506.75,256.54 L507.48,255.86 L508.21,255.17 L508.94,254.49 L509.68,253.82 L510.42,253.14 L511.16,252.48 L511.91,251.81 L512.66,251.15 L513.42,250.50 L514.18,249.85 L514.94,249.20 L515.71,248.56 L516.48,247.92 L517.25,247.29 L518.03,246.66 L518.82,246.04 L519.60,245.42 L520.40,244.81 L521.19,244.21 L521.99,243.61 L522.80,243.01 L523.60,242.42 L524.42,241.84 L525.23,241.26 L526.06,240.69 L526.88,240.12 L527.71,239.56 L528.55,239.01 L529.39,238.47 L530.23,237.93 L531.08,237.40 L531.93,236.87 L532.79,236.35 L533.65,235.84 L534.51,235.34 L535.38,234.85 L536.26,234.36 L537.14,233.88 L538.02,233.41 L538.91,232.95 L539.80,232.50 L540.69,232.05 L541.59,231.62 L542.50,231.19 L543.40,230.77 L544.32,230.37 L545.23,229.97 L546.15,229.58 L547.08,229.20 L548.01,228.83 L548.94,228.47 L549.88,228.12 L550.82,227.78 L551.77,227.45 L552.72,227.14 L553.67,226.83 L554.63,226.53 L555.59,226.24 L556.55,225.96 L557.51,225.69 L558.48,225.43 L559.45,225.18 L560.43,224.94 L561.40,224.71 L562.38,224.49 L563.36,224.28 L564.34,224.08 L565.33,223.88 L566.31,223.70 L567.30,223.53 L568.29,223.37 L569.28,223.21 L570.27,223.07 L571.26,222.93 L572.25,222.80 L573.24,222.69 L574.24,222.58 L575.23,222.48 L576.22,222.39 L577.22,222.31 L578.21,222.23 L579.21,222.17 L580.20,222.11 L581.19,222.06 L582.19,222.01 L583.18,221.97 L584.18,221.94 L585.18,221.91 L586.17,221.88 L587.17,221.86 L588.16,221.84 L589.16,221.83 L590.16,221.82 L591.15,221.81 L592.15,221.81 L593.15,221.80 L594.15,221.80 L595.15,221.80 L596.15,221.80 L597.14,221.80 L598.14,221.79 L599.14,221.79 L600.14,221.79 L601.14,221.78 L602.14,221.77 L603.15,221.77 L604.15,221.75 L605.15,221.74 L606.15,221.72 L607.15,221.70" stroke="#A5A5A5" stroke-dasharray="6.6 3.57" pathLength="1167.73"/>
<path d="M607.15,221.70 L608.15,221.68 L609.16,221.65 L610.16,221.62 L611.16,221.59 L612.16,221.55 L613.16,221.51 L614.17,221.47 L615.17,221.42 L616.17,221.37 L617.17,221.32 L618.17,221.26 L619.17,221.20 L620.17,221.13 L621.17,221.06 L622.17,220.99 L623.17,220.91 L624.17,220.83 L625.17,220.74 L626.17,220.65 L627.16,220.55 L628.16,220.45 L629.15,220.34 L630.15,220.23 L631.14,220.11 L632.14,219.99 L633.13,219.86 L634.12,219.73 L635.11,219.59 L636.10,219.45 L637.09,219.30 L638.07,219.14 L639.06,218.98 L640.04,218.82 L641.03,218.64 L642.01,218.47 L642.99,218.28 L643.97,218.09 L644.95,217.89 L645.92,217.69 L646.90,217.48 L647.87,217.26 L648.85,217.03 L649.82,216.80 L650.78,216.56 L651.75,216.32 L652.72,216.07 L653.68,215.81 L654.64,215.54 L655.60,215.27 L656.56,214.98 L657.52,214.70 L658.47,214.40 L659.43,214.10 L660.38,213.79 L661.32,213.48 L662.27,213.16 L663.22,212.83 L664.16,212.49 L665.10,212.15 L666.04,211.80 L666.97,211.45 L667.91,211.09 L668.84,210.72 L669.77,210.35 L670.69,209.97 L671.62,209.59 L672.54,209.20 L673.46,208.80 L674.37,208.40 L675.29,207.99 L676.20,207.58 L677.11,207.16 L678.02,206.73 L678.92,206.30 L679.82,205.86 L680.72,205.42 L681.62,204.98 L682.51,204.52 L683.40,204.07 L684.29,203.60 L685.17,203.14 L686.05,202.66 L686.93,202.18 L687.81,201.70 L688.68,201.21 L689.55,200.72 L690.41,200.23 L691.28,199.72 L692.14,199.22 L692.99,198.71 L693.85,198.19 L694.70,197.67 L695.55,197.15 L696.39,196.62 L697.24,196.09 L698.08,195.55 L698.91,195.01 L699.75,194.46 L700.58,193.91 L701.41,193.36 L702.24,192.80 L703.06,192.24 L703.88,191.68 L704.70,191.11 L705.52,190.53 L706.33,189.96 L707.14,189.38 L707.95,188.80 L708.76,188.21 L709.56,187.62 L710.36,187.02 L711.16,186.43 L711.96,185.83 L712.75,185.22 L713.55,184.62 L714.34,184.01 L715.12,183.39 L715.91,182.78 L716.69,182.16 L717.48,181.54 L718.26,180.91 L719.03,180.29 L719.81,179.66 L720.59,179.02 L721.36,178.39 L722.13,177.75 L722.90,177.11 L723.66,176.47 L724.43,175.82 L725.19,175.18 L725.95,174.53 L726.71,173.87 L727.47,173.22 L728.23,172.56 L728.98,171.91 L729.74,171.25 L730.49,170.58 L731.24,169.92 L731.99,169.25 L732.74,168.59 L733.48,167.92 L734.23,167.25 L734.97,166.57 L735.71,165.90 L736.45,165.22 L737.19,164.55 L737.93,163.87 L738.67,163.19 L739.40,162.51 L740.14,161.83 L740.87,161.14 L741.61,160.46 L742.34,159.77 L743.07,159.09 L743.80,158.40 L744.53,157.71 L745.26,157.02 L745.98,156.33 L746.71,155.64 L747.43,154.95 L748.16,154.26 L748.88,153.57 L749.61,152.87 L750.33,152.18 L751.05,151.49 L751.77,150.79 L752.49,150.10 L753.21,149.40 L753.93,148.71 L754.65,148.02 L755.37,147.32 L756.09,146.63 L756.81,145.93 L757.52,145.24 L758.24,144.54 L758.96,143.84 L759.67,143.15 L760.39,142.45 L761.10,141.75 L761.82,141.06 L762.53,140.36 L763.24,139.66 L763.95,138.96 L764.67,138.27 L765.38,137.57 L766.09,136.87 L766.80,136.17 L767.51,135.47 L768.22,134.77 L768.93,134.06 L769.63,133.36 L770.34,132.66 L771.05,131.96 L771.75,131.25 L772.46,130.55 L773.16,129.84 L773.87,129.14 L774.57,128.43 L775.27,127.73 L775.98,127.02 L776.68,126.31 L777.38,125.60 L778.08,124.89 L778.78,124.18 L779.48,123.47 L780.18,122.76 L780.88,122.04 L781.58,121.33 L782.28,120.62 L782.97,119.90 L783.67,119.18 L784.36,118.47 L785.06,117.75 L785.75,117.03 L786.45,116.31 L787.14,115.59 L787.83,114.87 L788.52,114.15 L789.22,113.42 L789.91,112.70 L790.60,111.98 L791.29,111.25 L791.97,110.53 L792.66,109.80 L793.35,109.07 L794.04,108.34 L794.72,107.62 L795.41,106.89 L796.10,106.16 L796.78,105.43 L797.47,104.70 L798.15,103.96 L798.83,103.23 L799.52,102.50 L800.20,101.77 L800.88,101.03 L801.56,100.30 L802.24,99.56 L802.92,98.83 L803.60,98.09 L804.28,97.36 L804.96,96.62 L805.63,95.88 L806.31,95.15 L806.99,94.41 L807.66,93.67 L808.34,92.93 L809.01,92.19 L809.69,91.45 L810.36,90.71 L811.03,89.97 L811.71,89.23 L812.38,88.49 L813.05,87.75 L813.72,87.01 L814.39,86.27 L815.06,85.53 L815.73,84.79 L816.40,84.04 L817.07,83.30 L817.73,82.56 L818.40,81.81 L819.07,81.07 L819.73,80.32 L820.40,79.58 L821.06,78.83 L821.73,78.09 L822.39,77.34 L823.05,76.59 L823.71,75.84 L824.38,75.10 L825.04,74.35 L825.70,73.60 L826.35,72.85 L827.01,72.10 L827.67,71.35 L828.33,70.60 L828.99,69.84 L829.64,69.09 L830.30,68.34 L830.95,67.58 L831.60,66.83 L832.26,66.07 L832.91,65.32 L833.56,64.56 L834.21,63.81 L834.86,63.05 L835.51,62.29 L836.16,61.53 L836.81,60.77 L837.46,60.01 L838.10,59.25 L838.75,58.49 L839.39,57.73 L840.04,56.96 L840.68,56.20 L841.32,55.43 L841.97,54.67 L842.61,53.90 L843.25,53.14 L843.89,52.37 L844.53,51.60 L845.16,50.83 L845.80,50.06 L846.44,49.29 L847.07,48.52 L847.71,47.74 L848.34,46.97 L848.98,46.20 L849.61,45.42 L850.24,44.65 L850.87,43.87 L851.50,43.09 L852.13,42.31 L852.76,41.53 L853.38,40.75 L854.01,39.97 L854.63,39.19 L855.26,38.40 L855.88,37.62 L856.51,36.83 L857.13,36.05 L857.75,35.26 L858.37,34.47" stroke="#A5A5A5" stroke-dasharray="6.6 3.57" stroke-dashoffset="8.35"/>
</g>
<path d="M104.10,31.00 V606.50 H858.50 M229.50,606.50 v-11 M355.50,606.50 v-11 M481.40,606.50 v-11 M606.60,606.50 v-11 M732.50,606.50 v-11 M104.10,524.00 h11 M104.10,441.40 h11 M104.10,359.90 h11 M104.10,277.50 h11 M104.10,195.10 h11 M104.10,112.50 h11" fill="none" stroke="#3a3a3a" stroke-width="1.3"/>
<text class="b" x="104.4" y="661.0" text-anchor="middle">0</text>
<text class="b" x="229.8" y="661.0" text-anchor="middle">5</text>
<text class="b" x="355.8" y="661.0" text-anchor="middle">10</text>
<text class="b" x="481.7" y="661.0" text-anchor="middle">15</text>
<text class="b" x="606.9" y="661.0" text-anchor="middle">20</text>
<text class="b" x="732.8" y="661.0" text-anchor="middle">25</text>
<text class="b" x="858.8" y="661.0" text-anchor="middle">30</text>
<text class="b" x="72.8" y="617.8" text-anchor="end">0</text>
<text class="b" x="72.8" y="535.3" text-anchor="end">1</text>
<text class="b" x="72.8" y="452.7" text-anchor="end">2</text>
<text class="b" x="72.8" y="371.2" text-anchor="end">3</text>
<text class="b" x="72.8" y="288.8" text-anchor="end">4</text>
<text class="b" x="72.8" y="206.4" text-anchor="end">5</text>
<text class="b" x="72.8" y="123.8" text-anchor="end">6</text>
<text class="b" x="72.8" y="42.3" text-anchor="end">7</text>
<text class="b" x="481.3" y="705.5" text-anchor="middle">Temperature (kK)</text>
<text class="b" transform="translate(40.0,279.5) rotate(-90)" text-anchor="middle">Thermal conductivity (W/m/K)</text>
<path d="M675.4,377.7 H706.8" stroke="#4472C4" stroke-width="2.6" fill="none"/>
<text class="b" x="707.9" y="389.1">1bar</text>
<path d="M675.4,430.2 H706.8" stroke="#ED7D31" stroke-width="2.6" fill="none" stroke-dasharray="10.2 7.63"/>
<text class="b" x="707.9" y="441.6">2bar</text>
<path d="M675.4,484.3 H706.8" stroke="#A5A5A5" stroke-width="2.6" fill="none" stroke-dasharray="6.6 3.57"/>
<text class="b" x="707.9" y="495.3">4bar</text>
<path d="M1213.50,31.80 V605.50 M1335.50,31.80 V605.50 M1458.10,31.80 V605.50 M1580.90,31.80 V605.50 M1703.50,31.80 V605.50 M1090.10,472.40 H1825.50 M1090.10,338.50 H1825.50 M1090.10,205.50 H1825.50 M1090.10,71.60 H1825.50" fill="none" stroke="#858585" stroke-width="1" stroke-dasharray="3.5 2.33"/>
<path d="M1090.10,31.80 H1825.50 V605.50" fill="none" stroke="#3a3a3a" stroke-width="1.25"/>
<clipPath id="cr"><rect x="1090.1" y="31.8" width="735.9" height="573.7"/></clipPath>
<g clip-path="url(#cr)" fill="none" stroke-width="2.6" stroke-linejoin="round">
<path d="M1194.98,609.00 L1195.14,608.01 L1195.31,607.02 L1195.47,606.04 L1195.64,605.05 L1195.80,604.07 L1195.96,603.08 L1196.13,602.09 L1196.29,601.11 L1196.45,600.12 L1196.61,599.13 L1196.77,598.15 L1196.93,597.16 L1197.09,596.17 L1197.25,595.19 L1197.41,594.20 L1197.57,593.21 L1197.73,592.22 L1197.88,591.24 L1198.04,590.25 L1198.20,589.26 L1198.35,588.27 L1198.51,587.29 L1198.67,586.30 L1198.82,585.31 L1198.98,584.32 L1199.13,583.33 L1199.29,582.35 L1199.45,581.36 L1199.60,580.37 L1199.76,579.38 L1199.91,578.39 L1200.07,577.41 L1200.23,576.42 L1200.38,575.43 L1200.54,574.44 L1200.69,573.45 L1200.85,572.47 L1201.01,571.48 L1201.16,570.49 L1201.32,569.50 L1201.48,568.51 L1201.64,567.53 L1201.80,566.54 L1201.95,565.55 L1202.11,564.56 L1202.27,563.58 L1202.43,562.59 L1202.59,561.60 L1202.75,560.61 L1202.91,559.63 L1203.08,558.64 L1203.24,557.65 L1203.40,556.67 L1203.57,555.68 L1203.73,554.69 L1203.90,553.71 L1204.06,552.72 L1204.23,551.73 L1204.40,550.75 L1204.56,549.76 L1204.73,548.78 L1204.90,547.79 L1205.07,546.80 L1205.24,545.82 L1205.42,544.83 L1205.59,543.85 L1205.77,542.87 L1205.94,541.88 L1206.12,540.90 L1206.29,539.91 L1206.47,538.93 L1206.65,537.94 L1206.83,536.96 L1207.02,535.98 L1207.20,535.00 L1207.38,534.01 L1207.57,533.03 L1207.76,532.05 L1207.95,531.07 L1208.13,530.08 L1208.33,529.10 L1208.52,528.12 L1208.71,527.14 L1208.91,526.16 L1209.10,525.18 L1209.30,524.20 L1209.50,523.22 L1209.70,522.24 L1209.91,521.26 L1210.11,520.28 L1210.32,519.31 L1210.52,518.33 L1210.73,517.35 L1210.94,516.37 L1211.15,515.40 L1211.37,514.42 L1211.58,513.44 L1211.80,512.47 L1212.01,511.49 L1212.23,510.51 L1212.45,509.54 L1212.67,508.56 L1212.89,507.59 L1213.11,506.61 L1213.34,505.64 L1213.56,504.66 L1213.78,503.69 L1214.01,502.71 L1214.24,501.74 L1214.46,500.77 L1214.69,499.79 L1214.92,498.82 L1215.15,497.84 L1215.38,496.87 L1215.61,495.90 L1215.84,494.92 L1216.07,493.95 L1216.31,492.98 L1216.54,492.01 L1216.77,491.03 L1217.01,490.06 L1217.24,489.09 L1217.47,488.12 L1217.71,487.14 L1217.94,486.17 L1218.18,485.20 L1218.41,484.23 L1218.65,483.25 L1218.88,482.28 L1219.12,481.31 L1219.35,480.34 L1219.59,479.36 L1219.82,478.39 L1220.06,477.42 L1220.29,476.45 L1220.53,475.48 L1220.76,474.50 L1221.00,473.53 L1221.23,472.56 L1221.46,471.59 L1221.70,470.61 L1221.93,469.64 L1222.16,468.67 L1222.39,467.70 L1222.62,466.72 L1222.85,465.75 L1223.08,464.78 L1223.31,463.80 L1223.54,462.83 L1223.77,461.86 L1224.00,460.88 L1224.22,459.91 L1224.45,458.93 L1224.67,457.96 L1224.90,456.99 L1225.12,456.01 L1225.34,455.04 L1225.56,454.06 L1225.78,453.09 L1226.00,452.11 L1226.22,451.14 L1226.43,450.16 L1226.65,449.18 L1226.86,448.21 L1227.08,447.23 L1227.29,446.25 L1227.50,445.28 L1227.71,444.30 L1227.92,443.32 L1228.12,442.35 L1228.33,441.37 L1228.53,440.39 L1228.73,439.41 L1228.93,438.43 L1229.13,437.45 L1229.33,436.47 L1229.53,435.49 L1229.72,434.51 L1229.92,433.53 L1230.11,432.55 L1230.30,431.57 L1230.49,430.59 L1230.67,429.61 L1230.86,428.63 L1231.04,427.65 L1231.22,426.66 L1231.40,425.68 L1231.58,424.70 L1231.76,423.71 L1231.93,422.73 L1232.11,421.74 L1232.28,420.76 L1232.44,419.77 L1232.61,418.79 L1232.78,417.80 L1232.94,416.82 L1233.10,415.83 L1233.26,414.84 L1233.41,413.85 L1233.57,412.87 L1233.72,411.88 L1233.87,410.89 L1234.02,409.90 L1234.17,408.91 L1234.32,407.92 L1234.47,406.93 L1234.61,405.94 L1234.75,404.95 L1234.90,403.96 L1235.04,402.97 L1235.18,401.98 L1235.32,400.99 L1235.45,400.00 L1235.59,399.01 L1235.73,398.01 L1235.87,397.02 L1236.00,396.03 L1236.14,395.04 L1236.27,394.05 L1236.41,393.06 L1236.54,392.06 L1236.68,391.07 L1236.81,390.08 L1236.95,389.09 L1237.08,388.10 L1237.22,387.10 L1237.35,386.11 L1237.49,385.12 L1237.62,384.13 L1237.76,383.14 L1237.90,382.15 L1238.04,381.16 L1238.18,380.17 L1238.31,379.17 L1238.46,378.18 L1238.60,377.19 L1238.74,376.20 L1238.88,375.21 L1239.02,374.22 L1239.17,373.24 L1239.31,372.25 L1239.46,371.26 L1239.61,370.27 L1239.75,369.28 L1239.90,368.29 L1240.05,367.30 L1240.20,366.31 L1240.35,365.33 L1240.51,364.34 L1240.66,363.35 L1240.81,362.36 L1240.97,361.38 L1241.12,360.39 L1241.28,359.40 L1241.43,358.41 L1241.59,357.43 L1241.75,356.44 L1241.91,355.45 L1242.07,354.47 L1242.23,353.48 L1242.39,352.50 L1242.55,351.51 L1242.71,350.53 L1242.88,349.54 L1243.04,348.56 L1243.21,347.57 L1243.38,346.59 L1243.54,345.60 L1243.71,344.62 L1243.88,343.63 L1244.05,342.65 L1244.22,341.66 L1244.39,340.68 L1244.56,339.70 L1244.73,338.71 L1244.91,337.73 L1245.08,336.74 L1245.26,335.76 L1245.43,334.78 L1245.61,333.80 L1245.79,332.81 L1245.96,331.83 L1246.14,330.85 L1246.32,329.87 L1246.50,328.88 L1246.69,327.90 L1246.87,326.92 L1247.05,325.94 L1247.23,324.96 L1247.42,323.97 L1247.60,322.99 L1247.79,322.01 L1247.98,321.03 L1248.16,320.05 L1248.35,319.07 L1248.54,318.09 L1248.73,317.11 L1248.92,316.13 L1249.11,315.15 L1249.31,314.17 L1249.50,313.19 L1249.69,312.21 L1249.89,311.23 L1250.08,310.25 L1250.28,309.27 L1250.48,308.29 L1250.67,307.31 L1250.87,306.33 L1251.07,305.35 L1251.27,304.37 L1251.47,303.39 L1251.67,302.41 L1251.88,301.43 L1252.08,300.45 L1252.28,299.47 L1252.49,298.50 L1252.69,297.52 L1252.90,296.54 L1253.11,295.56 L1253.31,294.58 L1253.52,293.61 L1253.73,292.63 L1253.94,291.65 L1254.15,290.67 L1254.36,289.69 L1254.58,288.72 L1254.79,287.74 L1255.00,286.76 L1255.22,285.79 L1255.43,284.81 L1255.65,283.83 L1255.87,282.85 L1256.08,281.88 L1256.30,280.90 L1256.52,279.92 L1256.74,278.95 L1256.97,277.97 L1257.19,277.00 L1257.41,276.02 L1257.64,275.04 L1257.86,274.07 L1258.09,273.09 L1258.32,272.12 L1258.55,271.14 L1258.78,270.17 L1259.01,269.20 L1259.24,268.22 L1259.48,267.25 L1259.71,266.28 L1259.95,265.30 L1260.19,264.33 L1260.43,263.36 L1260.67,262.39 L1260.91,261.42 L1261.16,260.45 L1261.40,259.48 L1261.65,258.51 L1261.90,257.54 L1262.15,256.57 L1262.40,255.60 L1262.66,254.63 L1262.92,253.66 L1263.17,252.70 L1263.43,251.73 L1263.70,250.76 L1263.96,249.80 L1264.22,248.83 L1264.49,247.87 L1264.76,246.90 L1265.03,245.94 L1265.31,244.98 L1265.58,244.02 L1265.86,243.05 L1266.14,242.09 L1266.42,241.13 L1266.70,240.17 L1266.99,239.21 L1267.28,238.26 L1267.57,237.30 L1267.86,236.34 L1268.16,235.39 L1268.46,234.43 L1268.76,233.48 L1269.06,232.52 L1269.36,231.57 L1269.67,230.62 L1269.98,229.66 L1270.29,228.71 L1270.61,227.76 L1270.92,226.81 L1271.25,225.87 L1271.57,224.92 L1271.89,223.97 L1272.22,223.03 L1272.55,222.08 L1272.89,221.14 L1273.22,220.19 L1273.56,219.25 L1273.91,218.31 L1274.25,217.37 L1274.60,216.43 L1274.95,215.49 L1275.31,214.56 L1275.66,213.62 L1276.02,212.68 L1276.39,211.75 L1276.75,210.82 L1277.12,209.88 L1277.50,208.95 L1277.87,208.02 L1278.25,207.09 L1278.63,206.16 L1279.02,205.24 L1279.41,204.31 L1279.80,203.39 L1280.20,202.47 L1280.60,201.54 L1281.00,200.62 L1281.41,199.71 L1281.82,198.79 L1282.24,197.88 L1282.66,196.96 L1283.08,196.06 L1283.51,195.15 L1283.95,194.24 L1284.39,193.34 L1284.83,192.44 L1285.28,191.55 L1285.73,190.65 L1286.19,189.76 L1286.65,188.88 L1287.12,187.99 L1287.60,187.11 L1288.08,186.23 L1288.56,185.36 L1289.05,184.49 L1289.55,183.63 L1290.06,182.76 L1290.56,181.91 L1291.08,181.05 L1291.60,180.21 L1292.13,179.36 L1292.66,178.52 L1293.21,177.69 L1293.75,176.86 L1294.31,176.03 L1294.87,175.21 L1295.44,174.39 L1296.01,173.58 L1296.59,172.78 L1297.18,171.98 L1297.77,171.18 L1298.37,170.39 L1298.98,169.60 L1299.59,168.82 L1300.21,168.04 L1300.83,167.27 L1301.46,166.50 L1302.10,165.74 L1302.74,164.98 L1303.39,164.22 L1304.04,163.48 L1304.70,162.73 L1305.36,161.99 L1306.03,161.26 L1306.71,160.53 L1307.39,159.80 L1308.07,159.08 L1308.76,158.36 L1309.46,157.65 L1310.16,156.94 L1310.87,156.24 L1311.58,155.54 L1312.29,154.85 L1313.01,154.16 L1313.74,153.47 L1314.47,152.79 L1315.20,152.12 L1315.94,151.45 L1316.68,150.78 L1317.43,150.12 L1318.18,149.46 L1318.94,148.81 L1319.70,148.16 L1320.47,147.51 L1321.23,146.87 L1322.01,146.24 L1322.78,145.61 L1323.56,144.98 L1324.35,144.36 L1325.14,143.74 L1325.93,143.13 L1326.72,142.52 L1327.52,141.91 L1328.33,141.31 L1329.13,140.72 L1329.94,140.12 L1330.75,139.54 L1331.57,138.95 L1332.39,138.37 L1333.21,137.80 L1334.04,137.23 L1334.86,136.66 L1335.69,136.10 L1336.53,135.54 L1337.36,134.99 L1338.20,134.44 L1339.05,133.90 L1339.89,133.36 L1340.74,132.82 L1341.59,132.29 L1342.44,131.76 L1343.29,131.23 L1344.15,130.71 L1345.01,130.19 L1345.87,129.68 L1346.73,129.17 L1347.60,128.66 L1348.46,128.16 L1349.33,127.65 L1350.20,127.16 L1351.08,126.67 L1351.95,126.18 L1352.83,125.69 L1353.71,125.21 L1354.59,124.73 L1355.47,124.25 L1356.35,123.77 L1357.23,123.30 L1358.12,122.84 L1359.01,122.37 L1359.89,121.91 L1360.78,121.45 L1361.67,120.99 L1362.57,120.54 L1363.46,120.09 L1364.35,119.64 L1365.25,119.20 L1366.15,118.75 L1367.04,118.32 L1367.94,117.88 L1368.84,117.45 L1369.75,117.02 L1370.65,116.59 L1371.55,116.16 L1372.46,115.74 L1373.36,115.32 L1374.27,114.91 L1375.18,114.49 L1376.09,114.08 L1377.00,113.68 L1377.91,113.27 L1378.83,112.87 L1379.74,112.47 L1380.66,112.08 L1381.57,111.68 L1382.49,111.29 L1383.41,110.91 L1384.33,110.52 L1385.25,110.14 L1386.18,109.76 L1387.10,109.39 L1388.03,109.02 L1388.95,108.65 L1389.88,108.28 L1390.81,107.92 L1391.74,107.55 L1392.67,107.20 L1393.60,106.84 L1394.54,106.49 L1395.47,106.14 L1396.41,105.79 L1397.34,105.45 L1398.28,105.10 L1399.22,104.76 L1400.16,104.43 L1401.10,104.09 L1402.04,103.76 L1402.98,103.43 L1403.93,103.11 L1404.87,102.78 L1405.82,102.46 L1406.76,102.14 L1407.71,101.83 L1408.66,101.51 L1409.61,101.20 L1410.56,100.89 L1411.51,100.59 L1412.46,100.28 L1413.41,99.98 L1414.37,99.68 L1415.32,99.38 L1416.28,99.09 L1417.23,98.80 L1418.19,98.51 L1419.15,98.22 L1420.11,97.93 L1421.07,97.65 L1422.02,97.37 L1422.99,97.09 L1423.95,96.81 L1424.91,96.54 L1425.87,96.26 L1426.83,95.99 L1427.80,95.73 L1428.76,95.46 L1429.73,95.20 L1430.69,94.93 L1431.66,94.67 L1432.63,94.41 L1433.59,94.16 L1434.56,93.90 L1435.53,93.65 L1436.50,93.40 L1437.47,93.15 L1438.44,92.91 L1439.41,92.66 L1440.38,92.42 L1441.35,92.18 L1442.33,91.94 L1443.30,91.70 L1444.27,91.47 L1445.25,91.23 L1446.22,91.00 L1447.19,90.77 L1448.17,90.54 L1449.14,90.31 L1450.12,90.09 L1451.09,89.86 L1452.07,89.64 L1453.05,89.42 L1454.02,89.20 L1455.00,88.98 L1455.98,88.77 L1456.95,88.55 L1457.93,88.34 L1458.91,88.13 L1459.89,87.92 L1460.87,87.71 L1461.85,87.50 L1462.82,87.30 L1463.80,87.09 L1464.78,86.89 L1465.76,86.69 L1466.74,86.49 L1467.72,86.29 L1468.70,86.09 L1469.68,85.89 L1470.66,85.70 L1471.64,85.50 L1472.63,85.31 L1473.61,85.12 L1474.59,84.93 L1475.57,84.74 L1476.55,84.55 L1477.53,84.36 L1478.51,84.18 L1479.50,83.99 L1480.48,83.81 L1481.46,83.63 L1482.44,83.44 L1483.43,83.26 L1484.41,83.08 L1485.39,82.90 L1486.38,82.73 L1487.36,82.55 L1488.34,82.37 L1489.33,82.20 L1490.31,82.02 L1491.30,81.85 L1492.28,81.67 L1493.27,81.50 L1494.25,81.33 L1495.23,81.16 L1496.22,80.99 L1497.20,80.82 L1498.19,80.65 L1499.17,80.48 L1500.16,80.32 L1501.15,80.15 L1502.13,79.98 L1503.12,79.82 L1504.10,79.65 L1505.09,79.49 L1506.07,79.32 L1507.06,79.16 L1508.05,79.00 L1509.03,78.83 L1510.02,78.67 L1511.01,78.51 L1511.99,78.35 L1512.98,78.19 L1513.96,78.03 L1514.95,77.87 L1515.94,77.71 L1516.93,77.55 L1517.91,77.39 L1518.90,77.23 L1519.89,77.07 L1520.87,76.91 L1521.86,76.75 L1522.85,76.59 L1523.83,76.44 L1524.82,76.28 L1525.81,76.12 L1526.80,75.96 L1527.78,75.80 L1528.77,75.65 L1529.76,75.49 L1530.75,75.33 L1531.73,75.17 L1532.72,75.02 L1533.71,74.86 L1534.70,74.70 L1535.68,74.54 L1536.67,74.38 L1537.66,74.23 L1538.65,74.07 L1539.63,73.91 L1540.62,73.75 L1541.61,73.59 L1542.60,73.43 L1543.59,73.28 L1544.57,73.12 L1545.56,72.96 L1546.55,72.80 L1547.54,72.64 L1548.52,72.49 L1549.51,72.33 L1550.50,72.17 L1551.49,72.02 L1552.48,71.86 L1553.47,71.70 L1554.45,71.55 L1555.44,71.39 L1556.43,71.24 L1557.42,71.08 L1558.41,70.93 L1559.40,70.78 L1560.38,70.62 L1561.37,70.47 L1562.36,70.32 L1563.35,70.17 L1564.34,70.02 L1565.33,69.87 L1566.32,69.72 L1567.31,69.58 L1568.30,69.43 L1569.29,69.28 L1570.28,69.14 L1571.27,69.00 L1572.26,68.85 L1573.25,68.71 L1574.24,68.57 L1575.23,68.43 L1576.22,68.29 L1577.21,68.15 L1578.20,68.02 L1579.19,67.88 L1580.18,67.75 L1581.17,67.62 L1582.16,67.48 L1583.15,67.35 L1584.14,67.23 L1585.13,67.10 L1586.13,66.97 L1587.12,66.85 L1588.11,66.72 L1589.10,66.60 L1590.09,66.48 L1591.09,66.36 L1592.08,66.24 L1593.07,66.12 L1594.06,66.01 L1595.06,65.89 L1596.05,65.78 L1597.04,65.66 L1598.04,65.55 L1599.03,65.44 L1600.02,65.33 L1601.02,65.22 L1602.01,65.12 L1603.01,65.01 L1604.00,64.91 L1604.99,64.80 L1605.99,64.70 L1606.98,64.60 L1607.98,64.50 L1608.97,64.40 L1609.97,64.30 L1610.96,64.21 L1611.96,64.11 L1612.95,64.01 L1613.95,63.92 L1614.94,63.83 L1615.94,63.74 L1616.93,63.65 L1617.93,63.56 L1618.92,63.47 L1619.92,63.38 L1620.92,63.30 L1621.91,63.21 L1622.91,63.13 L1623.90,63.05 L1624.90,62.96 L1625.90,62.88 L1626.89,62.80 L1627.89,62.73 L1628.89,62.65 L1629.88,62.57 L1630.88,62.50 L1631.88,62.42 L1632.87,62.35 L1633.87,62.27 L1634.87,62.20 L1635.86,62.13 L1636.86,62.06 L1637.86,61.99 L1638.86,61.93 L1639.85,61.86 L1640.85,61.79 L1641.85,61.73 L1642.85,61.66 L1643.84,61.60 L1644.84,61.54 L1645.84,61.48 L1646.84,61.42 L1647.84,61.36 L1648.83,61.30 L1649.83,61.24 L1650.83,61.18 L1651.83,61.13 L1652.83,61.07 L1653.83,61.02 L1654.82,60.97 L1655.82,60.91 L1656.82,60.86 L1657.82,60.81 L1658.82,60.76 L1659.82,60.71 L1660.82,60.66 L1661.82,60.62 L1662.82,60.57 L1663.81,60.52 L1664.81,60.48 L1665.81,60.43 L1666.81,60.39 L1667.81,60.35 L1668.81,60.31 L1669.81,60.26 L1670.81,60.22 L1671.81,60.18 L1672.81,60.15 L1673.81,60.11 L1674.81,60.07 L1675.81,60.03 L1676.81,60.00 L1677.80,59.96 L1678.80,59.93 L1679.80,59.89 L1680.80,59.86 L1681.80,59.83 L1682.80,59.80 L1683.80,59.77 L1684.80,59.74 L1685.80,59.71 L1686.80,59.68 L1687.80,59.65 L1688.80,59.62 L1689.80,59.60 L1690.80,59.57 L1691.80,59.54 L1692.80,59.52 L1693.80,59.49 L1694.80,59.47 L1695.80,59.45 L1696.80,59.43 L1697.80,59.40 L1698.80,59.38 L1699.80,59.36 L1700.80,59.34 L1701.80,59.32 L1702.80,59.30 L1703.80,59.29 L1704.80,59.27 L1705.80,59.25 L1706.80,59.23 L1707.80,59.22 L1708.80,59.20 L1709.80,59.19 L1710.80,59.17 L1711.80,59.16 L1712.80,59.15 L1713.80,59.13 L1714.80,59.12 L1715.80,59.11 L1716.80,59.10 L1717.80,59.09 L1718.80,59.08 L1719.80,59.07 L1720.80,59.06 L1721.80,59.05 L1722.80,59.04 L1723.80,59.03 L1724.80,59.02 L1725.80,59.01 L1726.80,59.01 L1727.80,59.00 L1728.80,58.99 L1729.80,58.99 L1730.80,58.98 L1731.80,58.98 L1732.80,58.97 L1733.80,58.97 L1734.80,58.96 L1735.80,58.96 L1736.80,58.95 L1737.80,58.95 L1738.80,58.95 L1739.80,58.94 L1740.80,58.94 L1741.80,58.94 L1742.80,58.94 L1743.80,58.93 L1744.80,58.93 L1745.80,58.93 L1746.80,58.93 L1747.80,58.93 L1748.80,58.93 L1749.80,58.93 L1750.80,58.92 L1751.80,58.92 L1752.80,58.92 L1753.80,58.92 L1754.80,58.92 L1755.80,58.92 L1756.80,58.92 L1757.80,58.92 L1758.80,58.92 L1759.80,58.92 L1760.80,58.92 L1761.80,58.92 L1762.80,58.92 L1763.80,58.92 L1764.80,58.93 L1765.80,58.93 L1766.80,58.93 L1767.80,58.93 L1768.80,58.93 L1769.80,58.93 L1770.80,58.93 L1771.80,58.93 L1772.80,58.93 L1773.80,58.93 L1774.80,58.93 L1775.80,58.93 L1776.80,58.93 L1777.80,58.93 L1778.80,58.93 L1779.80,58.93 L1780.80,58.93 L1781.80,58.93 L1782.80,58.93 L1783.80,58.93 L1784.80,58.93 L1785.80,58.93 L1786.80,58.93 L1787.80,58.93 L1788.80,58.93 L1789.80,58.93 L1790.80,58.93 L1791.80,58.93 L1792.80,58.92 L1793.80,58.92 L1794.80,58.92 L1795.80,58.92 L1796.80,58.91 L1797.80,58.91 L1798.80,58.91 L1799.80,58.91 L1800.80,58.90 L1801.80,58.90 L1802.80,58.89 L1803.80,58.89 L1804.80,58.88 L1805.80,58.88 L1806.80,58.87 L1807.80,58.87 L1808.80,58.86 L1809.80,58.85 L1810.80,58.85 L1811.80,58.84 L1812.80,58.83 L1813.80,58.82 L1814.80,58.82 L1815.80,58.81 L1816.80,58.80 L1817.80,58.79 L1818.80,58.78 L1819.80,58.77 L1820.80,58.76 L1821.80,58.74 L1822.80,58.73 L1823.80,58.72 L1824.80,58.71 L1825.80,58.69" stroke="#4472C4"/>
<path d="M1189.87,608.99 L1190.01,608.00 L1190.15,607.01 L1190.29,606.03 L1190.44,605.04 L1190.58,604.05 L1190.72,603.06 L1190.87,602.08 L1191.01,601.09 L1191.15,600.10 L1191.30,599.11 L1191.44,598.13 L1191.58,597.14 L1191.73,596.15 L1191.87,595.16 L1192.02,594.18 L1192.16,593.19 L1192.31,592.20 L1192.46,591.21 L1192.60,590.22 L1192.75,589.24 L1192.89,588.25 L1193.04,587.26 L1193.19,586.27 L1193.34,585.28 L1193.48,584.30 L1193.63,583.31 L1193.78,582.32 L1193.93,581.33 L1194.08,580.35 L1194.23,579.36 L1194.38,578.37 L1194.53,577.38 L1194.68,576.39 L1194.83,575.41 L1194.99,574.42 L1195.14,573.43 L1195.29,572.44 L1195.45,571.46 L1195.60,570.47 L1195.75,569.48 L1195.91,568.49 L1196.06,567.51 L1196.22,566.52 L1196.38,565.53 L1196.53,564.54 L1196.69,563.56 L1196.85,562.57 L1197.01,561.58 L1197.17,560.60 L1197.33,559.61 L1197.49,558.62 L1197.65,557.64 L1197.81,556.65 L1197.97,555.66 L1198.13,554.68 L1198.30,553.69 L1198.46,552.70 L1198.63,551.72 L1198.79,550.73 L1198.96,549.75 L1199.12,548.76 L1199.29,547.77 L1199.46,546.79 L1199.63,545.80 L1199.80,544.82 L1199.97,543.83 L1200.14,542.85 L1200.31,541.86 L1200.48,540.88 L1200.66,539.89 L1200.83,538.91 L1201.01,537.93 L1201.18,536.94 L1201.36,535.96 L1201.54,534.97 L1201.71,533.99 L1201.89,533.01 L1202.07,532.02 L1202.25,531.04 L1202.43,530.06 L1202.62,529.07 L1202.80,528.09 L1202.98,527.11 L1203.17,526.13 L1203.36,525.14 L1203.54,524.16 L1203.73,523.18 L1203.92,522.20 L1204.11,521.22 L1204.30,520.24 L1204.49,519.25 L1204.68,518.27 L1204.88,517.29 L1205.07,516.31 L1205.27,515.33 L1205.46,514.35 L1205.66,513.37 L1205.86,512.39 L1206.06,511.41 L1206.26,510.44 L1206.46,509.46 L1206.66,508.48 L1206.87,507.50 L1207.07,506.52 L1207.28,505.54 L1207.48,504.57 L1207.69,503.59 L1207.90,502.61 L1208.11,501.64 L1208.32,500.66 L1208.54,499.68 L1208.75,498.71 L1208.97,497.73 L1209.18,496.76 L1209.40,495.78 L1209.62,494.81 L1209.84,493.83 L1210.06,492.86 L1210.28,491.88 L1210.50,490.91 L1210.73,489.94 L1210.95,488.96 L1211.18,487.99 L1211.41,487.02 L1211.64,486.04 L1211.87,485.07 L1212.10,484.10 L1212.34,483.13 L1212.57,482.16 L1212.81,481.19 L1213.04,480.22 L1213.28,479.25 L1213.52,478.28 L1213.77,477.31 L1214.01,476.34 L1214.25,475.37 L1214.50,474.40 L1214.75,473.43 L1214.99,472.47 L1215.24,471.50 L1215.49,470.53 L1215.75,469.57 L1216.00,468.60 L1216.26,467.63 L1216.51,466.67 L1216.77,465.70 L1217.03,464.74 L1217.29,463.77 L1217.56,462.81 L1217.82,461.85 L1218.09,460.88 L1218.36,459.92 L1218.62,458.96 L1218.90,458.00 L1219.17,457.04 L1219.44,456.07 L1219.72,455.11 L1219.99,454.15 L1220.27,453.19 L1220.55,452.23 L1220.83,451.27 L1221.11,450.31 L1221.39,449.36 L1221.68,448.40 L1221.96,447.44 L1222.24,446.48 L1222.53,445.52 L1222.81,444.56 L1223.10,443.60 L1223.38,442.65 L1223.67,441.69 L1223.95,440.73 L1224.24,439.77 L1224.52,438.81 L1224.81,437.86 L1225.09,436.90 L1225.38,435.94 L1225.66,434.98 L1225.94,434.02 L1226.22,433.06 L1226.50,432.10 L1226.78,431.14 L1227.06,430.18 L1227.33,429.22 L1227.61,428.26 L1227.88,427.30 L1228.15,426.34 L1228.42,425.38 L1228.69,424.42 L1228.96,423.46 L1229.22,422.49 L1229.49,421.53 L1229.74,420.57 L1230.00,419.60 L1230.26,418.64 L1230.51,417.67 L1230.76,416.71 L1231.01,415.74 L1231.25,414.77 L1231.49,413.80 L1231.73,412.84 L1231.97,411.87 L1232.20,410.90 L1232.44,409.93 L1232.67,408.96 L1232.89,407.98 L1233.12,407.01 L1233.34,406.04 L1233.56,405.07 L1233.78,404.09 L1234.00,403.12 L1234.21,402.15 L1234.43,401.17 L1234.64,400.20 L1234.85,399.22 L1235.06,398.24 L1235.27,397.27 L1235.47,396.29 L1235.68,395.31 L1235.88,394.34 L1236.08,393.36 L1236.28,392.38 L1236.48,391.40 L1236.68,390.42 L1236.87,389.45 L1237.07,388.47 L1237.27,387.49 L1237.46,386.51 L1237.65,385.53 L1237.85,384.55 L1238.04,383.57 L1238.23,382.59 L1238.42,381.61 L1238.61,380.63 L1238.80,379.65 L1238.99,378.66 L1239.18,377.68 L1239.37,376.70 L1239.56,375.72 L1239.74,374.74 L1239.93,373.76 L1240.12,372.78 L1240.31,371.80 L1240.49,370.82 L1240.68,369.83 L1240.87,368.85 L1241.05,367.87 L1241.24,366.89 L1241.43,365.91 L1241.61,364.92 L1241.80,363.94 L1241.98,362.96 L1242.17,361.98 L1242.35,361.00 L1242.54,360.01 L1242.72,359.03 L1242.91,358.05 L1243.09,357.07 L1243.27,356.08 L1243.46,355.10 L1243.64,354.12 L1243.83,353.14 L1244.01,352.15 L1244.19,351.17 L1244.38,350.19 L1244.56,349.21 L1244.74,348.22 L1244.93,347.24 L1245.11,346.26 L1245.29,345.28 L1245.48,344.29 L1245.66,343.31 L1245.84,342.33 L1246.03,341.34 L1246.21,340.36 L1246.40,339.38 L1246.58,338.40 L1246.76,337.41 L1246.95,336.43 L1247.13,335.45 L1247.32,334.47 L1247.50,333.48 L1247.69,332.50 L1247.87,331.52 L1248.06,330.54 L1248.24,329.55 L1248.43,328.57 L1248.61,327.59 L1248.80,326.61 L1248.98,325.62 L1249.17,324.64 L1249.36,323.66 L1249.54,322.68 L1249.73,321.69 L1249.92,320.71 L1250.10,319.73 L1250.29,318.75 L1250.48,317.77 L1250.67,316.79 L1250.86,315.80 L1251.05,314.82 L1251.24,313.84 L1251.43,312.86 L1251.62,311.88 L1251.81,310.90 L1252.00,309.92 L1252.19,308.94 L1252.38,307.95 L1252.57,306.97 L1252.77,305.99 L1252.96,305.01 L1253.15,304.03 L1253.35,303.05 L1253.54,302.07 L1253.74,301.09 L1253.94,300.11 L1254.13,299.13 L1254.33,298.15 L1254.53,297.17 L1254.72,296.19 L1254.92,295.21 L1255.12,294.24 L1255.32,293.26 L1255.52,292.28 L1255.72,291.30 L1255.92,290.32 L1256.13,289.34 L1256.33,288.36 L1256.53,287.39 L1256.74,286.41 L1256.94,285.43 L1257.15,284.45 L1257.35,283.48 L1257.56,282.50 L1257.77,281.52 L1257.98,280.55 L1258.19,279.57 L1258.40,278.59 L1258.61,277.62 L1258.82,276.64 L1259.03,275.67 L1259.25,274.69 L1259.46,273.72 L1259.68,272.74 L1259.90,271.77 L1260.12,270.79 L1260.34,269.82 L1260.56,268.84 L1260.78,267.87 L1261.00,266.90 L1261.23,265.93 L1261.45,264.95 L1261.68,263.98 L1261.91,263.01 L1262.14,262.04 L1262.37,261.07 L1262.60,260.10 L1262.84,259.13 L1263.07,258.16 L1263.31,257.19 L1263.55,256.22 L1263.79,255.25 L1264.03,254.28 L1264.28,253.32 L1264.52,252.35 L1264.77,251.38 L1265.02,250.42 L1265.27,249.45 L1265.52,248.48 L1265.78,247.52 L1266.03,246.55 L1266.29,245.59 L1266.55,244.63 L1266.81,243.66 L1267.08,242.70 L1267.34,241.74 L1267.61,240.78 L1267.88,239.82 L1268.15,238.86 L1268.43,237.90 L1268.70,236.94 L1268.98,235.98 L1269.26,235.02 L1269.54,234.06 L1269.83,233.11 L1270.12,232.15 L1270.41,231.19 L1270.70,230.24 L1270.99,229.28 L1271.29,228.33 L1271.59,227.38 L1271.89,226.42 L1272.20,225.47 L1272.50,224.52 L1272.81,223.57 L1273.12,222.62 L1273.44,221.67 L1273.76,220.72 L1274.08,219.77 L1274.40,218.82 L1274.72,217.88 L1275.05,216.93 L1275.38,215.99 L1275.72,215.04 L1276.05,214.10 L1276.39,213.16 L1276.74,212.21 L1277.08,211.27 L1277.43,210.33 L1277.78,209.39 L1278.13,208.45 L1278.49,207.51 L1278.85,206.58 L1279.22,205.64 L1279.58,204.70 L1279.95,203.77 L1280.33,202.83 L1280.70,201.90 L1281.09,200.97 L1281.47,200.04 L1281.86,199.11 L1282.25,198.19 L1282.65,197.26 L1283.05,196.34 L1283.46,195.42 L1283.87,194.51 L1284.29,193.59 L1284.71,192.68 L1285.13,191.77 L1285.57,190.87 L1286.00,189.96 L1286.45,189.06 L1286.89,188.17 L1287.35,187.28 L1287.81,186.39 L1288.27,185.51 L1288.75,184.63 L1289.23,183.75 L1289.71,182.88 L1290.21,182.01 L1290.70,181.15 L1291.21,180.29 L1291.72,179.44 L1292.24,178.59 L1292.77,177.75 L1293.31,176.91 L1293.85,176.08 L1294.40,175.25 L1294.96,174.43 L1295.53,173.62 L1296.10,172.81 L1296.68,172.00 L1297.27,171.20 L1297.86,170.41 L1298.46,169.62 L1299.07,168.84 L1299.69,168.06 L1300.31,167.28 L1300.94,166.52 L1301.57,165.75 L1302.21,164.99 L1302.86,164.24 L1303.51,163.49 L1304.17,162.75 L1304.84,162.01 L1305.51,161.28 L1306.19,160.55 L1306.87,159.83 L1307.56,159.11 L1308.25,158.40 L1308.95,157.69 L1309.66,156.98 L1310.37,156.28 L1311.08,155.59 L1311.80,154.90 L1312.53,154.21 L1313.26,153.53 L1313.99,152.86 L1314.73,152.18 L1315.48,151.52 L1316.22,150.85 L1316.98,150.20 L1317.73,149.54 L1318.50,148.89 L1319.26,148.25 L1320.03,147.61 L1320.81,146.97 L1321.58,146.34 L1322.36,145.71 L1323.15,145.09 L1323.94,144.47 L1324.73,143.85 L1325.53,143.24 L1326.32,142.63 L1327.13,142.03 L1327.93,141.43 L1328.74,140.83 L1329.55,140.24 L1330.36,139.66 L1331.18,139.07 L1332.00,138.49 L1332.82,137.92 L1333.64,137.35 L1334.47,136.78 L1335.30,136.21 L1336.13,135.65 L1336.96,135.10 L1337.80,134.54 L1338.64,133.99 L1339.48,133.45 L1340.32,132.90 L1341.16,132.37 L1342.01,131.83 L1342.85,131.30 L1343.70,130.77 L1344.55,130.25 L1345.41,129.73 L1346.26,129.21 L1347.12,128.70 L1347.98,128.19 L1348.84,127.68 L1349.70,127.18 L1350.57,126.68 L1351.43,126.18 L1352.30,125.69 L1353.17,125.20 L1354.04,124.71 L1354.92,124.23 L1355.79,123.75 L1356.67,123.27 L1357.55,122.80 L1358.43,122.33 L1359.31,121.86 L1360.20,121.40 L1361.08,120.94 L1361.97,120.49 L1362.86,120.03 L1363.75,119.58 L1364.64,119.14 L1365.53,118.69 L1366.43,118.25 L1367.32,117.81 L1368.22,117.38 L1369.12,116.95 L1370.02,116.52 L1370.92,116.10 L1371.83,115.67 L1372.73,115.26 L1373.64,114.84 L1374.55,114.43 L1375.46,114.02 L1376.37,113.61 L1377.28,113.21 L1378.20,112.81 L1379.11,112.41 L1380.03,112.01 L1380.94,111.62 L1381.86,111.23 L1382.78,110.85 L1383.70,110.46 L1384.63,110.08 L1385.55,109.70 L1386.47,109.33 L1387.40,108.96 L1388.33,108.59 L1389.25,108.22 L1390.18,107.86 L1391.11,107.49 L1392.04,107.14 L1392.98,106.78 L1393.91,106.43 L1394.84,106.08 L1395.78,105.73 L1396.72,105.38 L1397.65,105.04 L1398.59,104.70 L1399.53,104.36 L1400.47,104.03 L1401.41,103.69 L1402.36,103.36 L1403.30,103.04 L1404.24,102.71 L1405.19,102.39 L1406.13,102.07 L1407.08,101.75 L1408.03,101.44 L1408.98,101.12 L1409.93,100.81 L1410.88,100.50 L1411.83,100.20 L1412.78,99.90 L1413.73,99.59 L1414.69,99.30 L1415.64,99.00 L1416.60,98.70 L1417.55,98.41 L1418.51,98.12 L1419.47,97.84 L1420.42,97.55 L1421.38,97.27 L1422.34,96.99 L1423.30,96.71 L1424.26,96.43 L1425.22,96.16 L1426.19,95.88 L1427.15,95.61 L1428.11,95.34 L1429.08,95.08 L1430.04,94.81 L1431.01,94.55 L1431.97,94.29 L1432.94,94.03 L1433.90,93.78 L1434.87,93.52 L1435.84,93.27 L1436.81,93.02 L1437.78,92.77 L1438.75,92.52 L1439.72,92.28 L1440.69,92.04 L1441.66,91.79 L1442.63,91.56 L1443.60,91.32 L1444.57,91.08 L1445.55,90.85 L1446.52,90.62 L1447.49,90.39 L1448.47,90.16 L1449.44,89.93 L1450.41,89.70 L1451.39,89.48 L1452.36,89.26 L1453.34,89.04 L1454.31,88.82 L1455.29,88.60 L1456.27,88.39 L1457.24,88.17 L1458.22,87.96 L1459.20,87.75 L1460.17,87.54 L1461.15,87.33 L1462.13,87.12 L1463.11,86.92 L1464.09,86.71 L1465.06,86.51 L1466.04,86.31 L1467.02,86.11 L1468.00,85.91 L1468.98,85.72 L1469.96,85.52 L1470.94,85.33 L1471.92,85.13 L1472.90,84.94 L1473.88,84.75 L1474.86,84.56 L1475.84,84.37 L1476.82,84.19 L1477.80,84.00 L1478.78,83.82 L1479.77,83.63 L1480.75,83.45 L1481.73,83.27 L1482.71,83.09 L1483.69,82.91 L1484.68,82.73 L1485.66,82.55 L1486.64,82.37 L1487.62,82.20 L1488.61,82.02 L1489.59,81.85 L1490.57,81.67 L1491.56,81.50 L1492.54,81.33 L1493.52,81.16 L1494.51,80.99 L1495.49,80.82 L1496.48,80.65 L1497.46,80.48 L1498.44,80.31 L1499.43,80.15 L1500.41,79.98 L1501.40,79.81 L1502.38,79.65 L1503.37,79.49 L1504.35,79.32 L1505.34,79.16 L1506.32,79.00 L1507.31,78.83 L1508.29,78.67 L1509.28,78.51 L1510.27,78.35 L1511.25,78.19 L1512.24,78.03 L1513.22,77.87 L1514.21,77.71 L1515.19,77.55 L1516.18,77.39 L1517.17,77.23 L1518.15,77.07 L1519.14,76.91 L1520.13,76.75 L1521.11,76.60 L1522.10,76.44 L1523.09,76.28 L1524.07,76.12 L1525.06,75.96 L1526.04,75.81 L1527.03,75.65 L1528.02,75.49 L1529.00,75.33 L1529.99,75.18 L1530.98,75.02 L1531.97,74.86 L1532.95,74.70 L1533.94,74.55 L1534.93,74.39 L1535.91,74.23 L1536.90,74.07 L1537.89,73.91 L1538.87,73.76 L1539.86,73.60 L1540.85,73.44 L1541.83,73.28 L1542.82,73.12 L1543.81,72.96 L1544.79,72.80 L1545.78,72.64 L1546.77,72.49 L1547.76,72.33 L1548.74,72.17 L1549.73,72.01 L1550.72,71.85 L1551.70,71.70 L1552.69,71.54 L1553.68,71.38 L1554.67,71.23 L1555.65,71.07 L1556.64,70.91 L1557.63,70.76 L1558.62,70.60 L1559.60,70.45 L1560.59,70.30 L1561.58,70.14 L1562.57,69.99 L1563.56,69.84 L1564.54,69.69 L1565.53,69.54 L1566.52,69.39 L1567.51,69.24 L1568.50,69.10 L1569.49,68.95 L1570.48,68.80 L1571.46,68.66 L1572.45,68.52 L1573.44,68.37 L1574.43,68.23 L1575.42,68.09 L1576.41,67.95 L1577.40,67.81 L1578.39,67.68 L1579.38,67.54 L1580.37,67.41 L1581.36,67.27 L1582.35,67.14 L1583.34,67.01 L1584.33,66.88 L1585.32,66.75 L1586.31,66.63 L1587.30,66.50 L1588.30,66.38 L1589.29,66.25 L1590.28,66.13 L1591.27,66.01 L1592.26,65.89 L1593.25,65.78 L1594.25,65.66 L1595.24,65.54 L1596.23,65.43 L1597.22,65.32 L1598.21,65.21 L1599.21,65.10 L1600.20,64.99 L1601.19,64.88 L1602.19,64.77 L1603.18,64.67 L1604.17,64.56 L1605.17,64.46 L1606.16,64.36 L1607.15,64.26 L1608.15,64.16 L1609.14,64.06 L1610.13,63.96 L1611.13,63.86 L1612.12,63.77 L1613.12,63.67 L1614.11,63.58 L1615.11,63.49 L1616.10,63.40 L1617.10,63.31 L1618.09,63.22 L1619.09,63.13 L1620.08,63.05 L1621.08,62.96 L1622.07,62.88 L1623.07,62.79 L1624.06,62.71 L1625.06,62.63 L1626.05,62.55 L1627.05,62.47 L1628.04,62.39 L1629.04,62.32 L1630.04,62.24 L1631.03,62.17 L1632.03,62.09 L1633.02,62.02 L1634.02,61.95 L1635.02,61.88 L1636.01,61.81 L1637.01,61.74 L1638.01,61.67 L1639.00,61.60 L1640.00,61.54 L1641.00,61.47 L1641.99,61.41 L1642.99,61.34 L1643.99,61.28 L1644.98,61.22 L1645.98,61.16 L1646.98,61.10 L1647.98,61.04 L1648.97,60.98 L1649.97,60.93 L1650.97,60.87 L1651.97,60.81 L1652.96,60.76 L1653.96,60.71 L1654.96,60.65 L1655.96,60.60 L1656.96,60.55 L1657.95,60.50 L1658.95,60.45 L1659.95,60.40 L1660.95,60.36 L1661.95,60.31 L1662.94,60.26 L1663.94,60.22 L1664.94,60.17 L1665.94,60.13 L1666.94,60.09 L1667.94,60.05 L1668.93,60.01 L1669.93,59.96 L1670.93,59.93 L1671.93,59.89 L1672.93,59.85 L1673.93,59.81 L1674.93,59.77 L1675.93,59.74 L1676.92,59.70 L1677.92,59.67 L1678.92,59.63 L1679.92,59.60 L1680.92,59.57 L1681.92,59.54 L1682.92,59.51 L1683.92,59.48 L1684.92,59.45 L1685.91,59.42 L1686.91,59.39 L1687.91,59.36 L1688.91,59.33 L1689.91,59.31 L1690.91,59.28 L1691.91,59.26 L1692.91,59.23 L1693.91,59.21 L1694.91,59.19 L1695.91,59.16 L1696.90,59.14 L1697.90,59.12 L1698.90,59.10 L1699.90,59.08 L1700.90,59.06 L1701.90,59.04 L1702.90,59.02 L1703.90,59.00 L1704.90,58.98 L1705.90,58.97 L1706.90,58.95 L1707.90,58.93 L1708.90,58.92 L1709.89,58.90 L1710.89,58.89 L1711.89,58.88 L1712.89,58.86 L1713.89,58.85 L1714.89,58.84 L1715.89,58.82 L1716.89,58.81 L1717.89,58.80 L1718.89,58.79 L1719.89,58.78 L1720.89,58.77 L1721.88,58.76 L1722.88,58.75 L1723.88,58.74 L1724.88,58.73 L1725.88,58.73 L1726.88,58.72 L1727.88,58.71 L1728.88,58.70 L1729.88,58.70 L1730.88,58.69 L1731.88,58.69 L1732.88,58.68 L1733.88,58.67 L1734.87,58.67 L1735.87,58.66 L1736.87,58.66 L1737.87,58.66 L1738.87,58.65 L1739.87,58.65 L1740.87,58.64 L1741.87,58.64 L1742.87,58.64 L1743.87,58.64 L1744.87,58.63 L1745.87,58.63 L1746.86,58.63 L1747.86,58.63 L1748.86,58.63 L1749.86,58.62 L1750.86,58.62 L1751.86,58.62 L1752.86,58.62 L1753.86,58.62 L1754.86,58.62 L1755.86,58.62 L1756.86,58.62 L1757.86,58.62 L1758.85,58.62 L1759.85,58.62 L1760.85,58.62 L1761.85,58.62 L1762.85,58.62 L1763.85,58.62 L1764.85,58.62 L1765.85,58.62 L1766.85,58.62 L1767.85,58.62 L1768.85,58.62 L1769.85,58.62 L1770.84,58.62 L1771.84,58.62 L1772.84,58.62 L1773.84,58.62 L1774.84,58.62 L1775.84,58.62 L1776.84,58.62 L1777.84,58.62 L1778.84,58.62 L1779.84,58.62 L1780.84,58.62 L1781.84,58.62 L1782.84,58.62 L1783.83,58.62 L1784.83,58.62 L1785.83,58.62 L1786.83,58.61 L1787.83,58.61 L1788.83,58.61 L1789.83,58.61 L1790.83,58.61 L1791.83,58.61 L1792.83,58.61 L1793.83,58.60 L1794.83,58.60 L1795.82,58.60 L1796.82,58.60 L1797.82,58.60 L1798.82,58.59 L1799.82,58.59 L1800.82,58.59 L1801.82,58.58 L1802.82,58.58 L1803.82,58.57 L1804.82,58.57 L1805.82,58.56 L1806.82,58.56 L1807.81,58.55 L1808.81,58.55 L1809.81,58.54 L1810.81,58.54 L1811.81,58.53 L1812.81,58.52 L1813.81,58.51 L1814.81,58.51 L1815.81,58.50 L1816.81,58.49 L1817.81,58.48 L1818.81,58.47 L1819.80,58.46 L1820.80,58.45 L1821.80,58.44 L1822.80,58.43 L1823.80,58.42 L1824.80,58.41 L1825.80,58.40" stroke="#548235"/>
<path d="M1192.20,609.00 L1192.34,608.01 L1192.47,607.02 L1192.61,606.03 L1192.74,605.04 L1192.88,604.05 L1193.01,603.06 L1193.15,602.07 L1193.29,601.08 L1193.42,600.10 L1193.56,599.11 L1193.70,598.12 L1193.83,597.13 L1193.97,596.14 L1194.11,595.15 L1194.25,594.16 L1194.39,593.17 L1194.53,592.18 L1194.67,591.19 L1194.81,590.20 L1194.95,589.21 L1195.09,588.22 L1195.24,587.24 L1195.38,586.25 L1195.52,585.26 L1195.67,584.27 L1195.81,583.28 L1195.96,582.29 L1196.10,581.30 L1196.25,580.31 L1196.39,579.32 L1196.54,578.34 L1196.69,577.35 L1196.84,576.36 L1196.99,575.37 L1197.14,574.38 L1197.29,573.39 L1197.44,572.40 L1197.59,571.42 L1197.74,570.43 L1197.90,569.44 L1198.05,568.45 L1198.20,567.46 L1198.36,566.48 L1198.52,565.49 L1198.67,564.50 L1198.83,563.51 L1198.99,562.53 L1199.15,561.54 L1199.31,560.55 L1199.47,559.57 L1199.63,558.58 L1199.79,557.59 L1199.95,556.61 L1200.12,555.62 L1200.28,554.63 L1200.45,553.65 L1200.61,552.66 L1200.78,551.67 L1200.95,550.69 L1201.12,549.70 L1201.29,548.72 L1201.46,547.73 L1201.63,546.75 L1201.80,545.76 L1201.97,544.78 L1202.15,543.79 L1202.32,542.81 L1202.50,541.83 L1202.68,540.84 L1202.86,539.86 L1203.04,538.88 L1203.22,537.89 L1203.40,536.91 L1203.58,535.93 L1203.76,534.94 L1203.95,533.96 L1204.13,532.98 L1204.32,532.00 L1204.51,531.02 L1204.70,530.03 L1204.89,529.05 L1205.08,528.07 L1205.27,527.09 L1205.46,526.11 L1205.66,525.13 L1205.85,524.15 L1206.05,523.17 L1206.25,522.19 L1206.45,521.21 L1206.65,520.23 L1206.85,519.25 L1207.05,518.28 L1207.26,517.30 L1207.46,516.32 L1207.67,515.34 L1207.87,514.37 L1208.08,513.39 L1208.29,512.41 L1208.50,511.43 L1208.71,510.46 L1208.93,509.48 L1209.14,508.51 L1209.36,507.53 L1209.57,506.56 L1209.79,505.58 L1210.01,504.61 L1210.23,503.63 L1210.45,502.66 L1210.67,501.68 L1210.89,500.71 L1211.12,499.73 L1211.34,498.76 L1211.57,497.79 L1211.80,496.82 L1212.02,495.84 L1212.25,494.87 L1212.48,493.90 L1212.71,492.93 L1212.95,491.95 L1213.18,490.98 L1213.41,490.01 L1213.65,489.04 L1213.88,488.07 L1214.12,487.10 L1214.36,486.13 L1214.60,485.16 L1214.84,484.19 L1215.08,483.22 L1215.32,482.25 L1215.56,481.28 L1215.80,480.31 L1216.05,479.34 L1216.29,478.37 L1216.54,477.40 L1216.79,476.44 L1217.03,475.47 L1217.28,474.50 L1217.53,473.53 L1217.78,472.56 L1218.04,471.60 L1218.29,470.63 L1218.54,469.66 L1218.79,468.70 L1219.05,467.73 L1219.30,466.76 L1219.56,465.80 L1219.82,464.83 L1220.08,463.87 L1220.33,462.90 L1220.59,461.93 L1220.85,460.97 L1221.12,460.00 L1221.38,459.04 L1221.64,458.07 L1221.90,457.11 L1222.17,456.15 L1222.43,455.18 L1222.70,454.22 L1222.96,453.25 L1223.23,452.29 L1223.50,451.33 L1223.76,450.36 L1224.03,449.40 L1224.30,448.44 L1224.57,447.47 L1224.83,446.51 L1225.10,445.54 L1225.37,444.58 L1225.63,443.62 L1225.90,442.65 L1226.16,441.69 L1226.43,440.73 L1226.69,439.76 L1226.96,438.80 L1227.22,437.83 L1227.48,436.87 L1227.74,435.90 L1228.00,434.94 L1228.26,433.97 L1228.52,433.01 L1228.78,432.04 L1229.03,431.08 L1229.28,430.11 L1229.54,429.14 L1229.79,428.17 L1230.03,427.21 L1230.28,426.24 L1230.52,425.27 L1230.77,424.30 L1231.01,423.33 L1231.25,422.36 L1231.48,421.39 L1231.71,420.42 L1231.95,419.45 L1232.17,418.48 L1232.40,417.50 L1232.62,416.53 L1232.84,415.56 L1233.06,414.58 L1233.28,413.61 L1233.49,412.63 L1233.70,411.65 L1233.91,410.68 L1234.11,409.70 L1234.32,408.72 L1234.52,407.75 L1234.72,406.77 L1234.92,405.79 L1235.11,404.81 L1235.31,403.83 L1235.50,402.85 L1235.69,401.87 L1235.88,400.89 L1236.06,399.90 L1236.25,398.92 L1236.43,397.94 L1236.62,396.96 L1236.80,395.98 L1236.98,394.99 L1237.16,394.01 L1237.33,393.03 L1237.51,392.04 L1237.69,391.06 L1237.86,390.07 L1238.04,389.09 L1238.21,388.11 L1238.38,387.12 L1238.56,386.14 L1238.73,385.15 L1238.90,384.17 L1239.07,383.18 L1239.24,382.20 L1239.41,381.21 L1239.58,380.23 L1239.75,379.24 L1239.92,378.26 L1240.09,377.27 L1240.27,376.29 L1240.44,375.30 L1240.61,374.32 L1240.78,373.33 L1240.95,372.35 L1241.12,371.36 L1241.29,370.38 L1241.46,369.39 L1241.63,368.41 L1241.80,367.42 L1241.97,366.44 L1242.14,365.46 L1242.31,364.47 L1242.48,363.49 L1242.65,362.50 L1242.82,361.52 L1242.99,360.53 L1243.16,359.55 L1243.34,358.56 L1243.51,357.58 L1243.68,356.59 L1243.85,355.61 L1244.02,354.62 L1244.19,353.64 L1244.37,352.66 L1244.54,351.67 L1244.71,350.69 L1244.88,349.70 L1245.06,348.72 L1245.23,347.73 L1245.40,346.75 L1245.58,345.77 L1245.75,344.78 L1245.92,343.80 L1246.10,342.81 L1246.27,341.83 L1246.45,340.85 L1246.62,339.86 L1246.80,338.88 L1246.97,337.90 L1247.15,336.91 L1247.32,335.93 L1247.50,334.94 L1247.68,333.96 L1247.86,332.98 L1248.03,331.99 L1248.21,331.01 L1248.39,330.03 L1248.57,329.05 L1248.75,328.06 L1248.93,327.08 L1249.11,326.10 L1249.29,325.11 L1249.47,324.13 L1249.65,323.15 L1249.83,322.17 L1250.01,321.18 L1250.19,320.20 L1250.37,319.22 L1250.56,318.24 L1250.74,317.25 L1250.93,316.27 L1251.11,315.29 L1251.30,314.31 L1251.48,313.33 L1251.67,312.35 L1251.85,311.36 L1252.04,310.38 L1252.23,309.40 L1252.42,308.42 L1252.61,307.44 L1252.79,306.46 L1252.98,305.48 L1253.17,304.50 L1253.37,303.51 L1253.56,302.53 L1253.75,301.55 L1253.94,300.57 L1254.14,299.59 L1254.33,298.61 L1254.52,297.63 L1254.72,296.65 L1254.92,295.67 L1255.11,294.69 L1255.31,293.71 L1255.51,292.73 L1255.71,291.75 L1255.91,290.78 L1256.11,289.80 L1256.31,288.82 L1256.51,287.84 L1256.71,286.86 L1256.91,285.88 L1257.12,284.90 L1257.32,283.92 L1257.53,282.95 L1257.73,281.97 L1257.94,280.99 L1258.15,280.01 L1258.36,279.04 L1258.57,278.06 L1258.78,277.08 L1258.99,276.10 L1259.20,275.13 L1259.41,274.15 L1259.63,273.18 L1259.85,272.20 L1260.06,271.22 L1260.28,270.25 L1260.50,269.27 L1260.72,268.30 L1260.94,267.32 L1261.17,266.35 L1261.39,265.38 L1261.62,264.40 L1261.85,263.43 L1262.07,262.46 L1262.31,261.49 L1262.54,260.51 L1262.77,259.54 L1263.01,258.57 L1263.24,257.60 L1263.48,256.63 L1263.72,255.66 L1263.96,254.69 L1264.21,253.72 L1264.45,252.75 L1264.70,251.78 L1264.95,250.82 L1265.20,249.85 L1265.45,248.88 L1265.70,247.92 L1265.96,246.95 L1266.22,245.99 L1266.48,245.02 L1266.74,244.06 L1267.00,243.09 L1267.27,242.13 L1267.53,241.17 L1267.80,240.21 L1268.08,239.24 L1268.35,238.28 L1268.63,237.32 L1268.91,236.36 L1269.19,235.41 L1269.47,234.45 L1269.76,233.49 L1270.04,232.53 L1270.33,231.58 L1270.63,230.62 L1270.92,229.66 L1271.22,228.71 L1271.52,227.76 L1271.82,226.80 L1272.13,225.85 L1272.43,224.90 L1272.74,223.95 L1273.06,223.00 L1273.37,222.05 L1273.69,221.10 L1274.01,220.15 L1274.34,219.21 L1274.66,218.26 L1274.99,217.32 L1275.32,216.37 L1275.66,215.43 L1276.00,214.48 L1276.34,213.54 L1276.68,212.60 L1277.03,211.66 L1277.38,210.72 L1277.73,209.78 L1278.09,208.84 L1278.45,207.91 L1278.81,206.97 L1279.17,206.04 L1279.54,205.10 L1279.91,204.17 L1280.29,203.24 L1280.67,202.31 L1281.05,201.38 L1281.44,200.45 L1281.83,199.53 L1282.22,198.60 L1282.62,197.68 L1283.02,196.76 L1283.43,195.84 L1283.85,194.93 L1284.26,194.02 L1284.69,193.11 L1285.11,192.20 L1285.55,191.30 L1285.98,190.40 L1286.43,189.50 L1286.88,188.61 L1287.33,187.71 L1287.79,186.83 L1288.26,185.94 L1288.73,185.07 L1289.21,184.19 L1289.70,183.32 L1290.19,182.45 L1290.69,181.59 L1291.20,180.73 L1291.71,179.88 L1292.23,179.03 L1292.76,178.19 L1293.29,177.35 L1293.83,176.52 L1294.38,175.69 L1294.94,174.87 L1295.50,174.05 L1296.07,173.24 L1296.65,172.43 L1297.24,171.63 L1297.83,170.83 L1298.43,170.04 L1299.04,169.25 L1299.65,168.47 L1300.27,167.70 L1300.89,166.92 L1301.52,166.16 L1302.16,165.40 L1302.81,164.64 L1303.46,163.89 L1304.11,163.14 L1304.78,162.40 L1305.44,161.66 L1306.12,160.93 L1306.80,160.20 L1307.48,159.48 L1308.17,158.76 L1308.87,158.05 L1309.57,157.34 L1310.28,156.64 L1310.99,155.94 L1311.71,155.25 L1312.43,154.56 L1313.16,153.87 L1313.89,153.19 L1314.63,152.52 L1315.37,151.85 L1316.12,151.18 L1316.87,150.52 L1317.62,149.86 L1318.38,149.21 L1319.14,148.56 L1319.91,147.92 L1320.68,147.28 L1321.46,146.65 L1322.24,146.02 L1323.02,145.39 L1323.81,144.77 L1324.60,144.16 L1325.40,143.54 L1326.20,142.94 L1327.00,142.33 L1327.80,141.73 L1328.61,141.14 L1329.42,140.55 L1330.24,139.96 L1331.05,139.38 L1331.87,138.80 L1332.70,138.23 L1333.52,137.66 L1334.35,137.10 L1335.18,136.53 L1336.01,135.98 L1336.85,135.43 L1337.69,134.88 L1338.53,134.33 L1339.37,133.79 L1340.22,133.26 L1341.06,132.72 L1341.91,132.19 L1342.76,131.67 L1343.62,131.15 L1344.47,130.63 L1345.33,130.11 L1346.19,129.60 L1347.05,129.09 L1347.91,128.59 L1348.78,128.09 L1349.65,127.59 L1350.51,127.10 L1351.38,126.60 L1352.26,126.11 L1353.13,125.63 L1354.00,125.15 L1354.88,124.67 L1355.76,124.19 L1356.64,123.71 L1357.52,123.24 L1358.40,122.77 L1359.29,122.31 L1360.17,121.84 L1361.06,121.38 L1361.94,120.92 L1362.83,120.46 L1363.72,120.01 L1364.61,119.56 L1365.51,119.11 L1366.40,118.66 L1367.30,118.22 L1368.19,117.78 L1369.09,117.34 L1369.99,116.90 L1370.89,116.47 L1371.79,116.04 L1372.69,115.61 L1373.60,115.19 L1374.50,114.77 L1375.41,114.35 L1376.31,113.93 L1377.22,113.52 L1378.13,113.11 L1379.05,112.70 L1379.96,112.30 L1380.87,111.90 L1381.79,111.50 L1382.70,111.11 L1383.62,110.72 L1384.54,110.33 L1385.46,109.95 L1386.38,109.56 L1387.31,109.19 L1388.23,108.81 L1389.16,108.44 L1390.08,108.07 L1391.01,107.71 L1391.94,107.34 L1392.87,106.99 L1393.80,106.63 L1394.74,106.28 L1395.67,105.93 L1396.60,105.58 L1397.54,105.24 L1398.48,104.90 L1399.42,104.57 L1400.36,104.23 L1401.30,103.90 L1402.24,103.57 L1403.18,103.25 L1404.13,102.93 L1405.07,102.61 L1406.02,102.29 L1406.97,101.98 L1407.91,101.67 L1408.86,101.36 L1409.81,101.05 L1410.76,100.75 L1411.72,100.45 L1412.67,100.15 L1413.62,99.86 L1414.58,99.56 L1415.53,99.27 L1416.49,98.98 L1417.44,98.70 L1418.40,98.42 L1419.36,98.13 L1420.32,97.86 L1421.28,97.58 L1422.24,97.31 L1423.20,97.03 L1424.17,96.76 L1425.13,96.50 L1426.09,96.23 L1427.06,95.97 L1428.02,95.71 L1428.99,95.45 L1429.95,95.19 L1430.92,94.94 L1431.89,94.68 L1432.86,94.43 L1433.82,94.18 L1434.79,93.93 L1435.76,93.69 L1436.73,93.44 L1437.70,93.20 L1438.68,92.96 L1439.65,92.72 L1440.62,92.48 L1441.59,92.25 L1442.56,92.01 L1443.54,91.78 L1444.51,91.55 L1445.49,91.32 L1446.46,91.09 L1447.44,90.86 L1448.41,90.63 L1449.39,90.41 L1450.36,90.19 L1451.34,89.97 L1452.31,89.74 L1453.29,89.53 L1454.27,89.31 L1455.24,89.09 L1456.22,88.87 L1457.20,88.66 L1458.18,88.44 L1459.15,88.23 L1460.13,88.02 L1461.11,87.81 L1462.09,87.60 L1463.07,87.39 L1464.04,87.18 L1465.02,86.98 L1466.00,86.77 L1466.98,86.56 L1467.96,86.36 L1468.94,86.16 L1469.92,85.96 L1470.90,85.75 L1471.88,85.55 L1472.86,85.35 L1473.84,85.16 L1474.82,84.96 L1475.80,84.76 L1476.78,84.57 L1477.76,84.37 L1478.74,84.18 L1479.72,83.99 L1480.70,83.79 L1481.68,83.60 L1482.66,83.41 L1483.65,83.22 L1484.63,83.03 L1485.61,82.85 L1486.59,82.66 L1487.57,82.47 L1488.55,82.29 L1489.54,82.10 L1490.52,81.92 L1491.50,81.74 L1492.48,81.56 L1493.47,81.38 L1494.45,81.20 L1495.43,81.02 L1496.41,80.84 L1497.40,80.66 L1498.38,80.48 L1499.36,80.31 L1500.35,80.13 L1501.33,79.96 L1502.32,79.78 L1503.30,79.61 L1504.28,79.44 L1505.27,79.27 L1506.25,79.10 L1507.24,78.93 L1508.22,78.76 L1509.21,78.59 L1510.19,78.42 L1511.17,78.25 L1512.16,78.09 L1513.14,77.92 L1514.13,77.76 L1515.12,77.59 L1516.10,77.43 L1517.09,77.27 L1518.07,77.11 L1519.06,76.94 L1520.04,76.78 L1521.03,76.62 L1522.02,76.46 L1523.00,76.31 L1523.99,76.15 L1524.97,75.99 L1525.96,75.83 L1526.95,75.68 L1527.93,75.52 L1528.92,75.37 L1529.91,75.21 L1530.89,75.06 L1531.88,74.91 L1532.87,74.75 L1533.86,74.60 L1534.84,74.45 L1535.83,74.30 L1536.82,74.15 L1537.81,74.00 L1538.79,73.85 L1539.78,73.70 L1540.77,73.55 L1541.76,73.41 L1542.74,73.26 L1543.73,73.11 L1544.72,72.97 L1545.71,72.82 L1546.70,72.68 L1547.69,72.54 L1548.67,72.39 L1549.66,72.25 L1550.65,72.11 L1551.64,71.96 L1552.63,71.82 L1553.62,71.68 L1554.61,71.54 L1555.60,71.40 L1556.59,71.26 L1557.58,71.12 L1558.56,70.98 L1559.55,70.85 L1560.54,70.71 L1561.53,70.57 L1562.52,70.43 L1563.51,70.30 L1564.50,70.16 L1565.49,70.03 L1566.48,69.89 L1567.47,69.76 L1568.46,69.62 L1569.45,69.49 L1570.44,69.36 L1571.43,69.22 L1572.42,69.09 L1573.41,68.96 L1574.40,68.83 L1575.39,68.69 L1576.39,68.56 L1577.38,68.43 L1578.37,68.30 L1579.36,68.17 L1580.35,68.04 L1581.34,67.91 L1582.33,67.78 L1583.32,67.65 L1584.31,67.53 L1585.30,67.40 L1586.29,67.27 L1587.29,67.14 L1588.28,67.02 L1589.27,66.89 L1590.26,66.76 L1591.25,66.64 L1592.24,66.51 L1593.23,66.39 L1594.23,66.27 L1595.22,66.14 L1596.21,66.02 L1597.20,65.90 L1598.19,65.78 L1599.19,65.66 L1600.18,65.54 L1601.17,65.42 L1602.16,65.31 L1603.15,65.19 L1604.15,65.07 L1605.14,64.96 L1606.13,64.84 L1607.13,64.73 L1608.12,64.62 L1609.11,64.50 L1610.10,64.39 L1611.10,64.28 L1612.09,64.17 L1613.08,64.07 L1614.08,63.96 L1615.07,63.85 L1616.06,63.75 L1617.06,63.65 L1618.05,63.54 L1619.05,63.44 L1620.04,63.34 L1621.03,63.24 L1622.03,63.15 L1623.02,63.05 L1624.02,62.95 L1625.01,62.86 L1626.01,62.77 L1627.00,62.68 L1628.00,62.59 L1628.99,62.50 L1629.99,62.41 L1630.98,62.32 L1631.98,62.24 L1632.97,62.16 L1633.97,62.07 L1634.96,61.99 L1635.96,61.92 L1636.96,61.84 L1637.95,61.76 L1638.95,61.69 L1639.95,61.62 L1640.94,61.55 L1641.94,61.48 L1642.94,61.41 L1643.93,61.34 L1644.93,61.28 L1645.93,61.22 L1646.92,61.15 L1647.92,61.09 L1648.92,61.04 L1649.92,60.98 L1650.91,60.92 L1651.91,60.87 L1652.91,60.82 L1653.91,60.77 L1654.91,60.72 L1655.90,60.67 L1656.90,60.62 L1657.90,60.57 L1658.90,60.53 L1659.90,60.48 L1660.90,60.44 L1661.90,60.40 L1662.90,60.36 L1663.89,60.32 L1664.89,60.28 L1665.89,60.25 L1666.89,60.21 L1667.89,60.18 L1668.89,60.14 L1669.89,60.11 L1670.89,60.08 L1671.89,60.05 L1672.89,60.02 L1673.89,59.99 L1674.89,59.96 L1675.89,59.93 L1676.89,59.90 L1677.89,59.88 L1678.89,59.85 L1679.89,59.83 L1680.89,59.80 L1681.89,59.78 L1682.89,59.76 L1683.89,59.74 L1684.89,59.72 L1685.89,59.70 L1686.89,59.68 L1687.89,59.66 L1688.89,59.64 L1689.89,59.62 L1690.89,59.60 L1691.89,59.59 L1692.89,59.57 L1693.89,59.55 L1694.89,59.54 L1695.89,59.52 L1696.89,59.51 L1697.89,59.49 L1698.88,59.48 L1699.88,59.46 L1700.88,59.45 L1701.88,59.43 L1702.88,59.42 L1703.88,59.41 L1704.88,59.39 L1705.88,59.38 L1706.88,59.37 L1707.88,59.36 L1708.88,59.34 L1709.88,59.33 L1710.88,59.32 L1711.88,59.31 L1712.88,59.29 L1713.88,59.28 L1714.88,59.27 L1715.88,59.26 L1716.88,59.25 L1717.88,59.24 L1718.88,59.23 L1719.88,59.22 L1720.88,59.21 L1721.88,59.20 L1722.88,59.19 L1723.87,59.18 L1724.87,59.17 L1725.87,59.16 L1726.87,59.15 L1727.87,59.14 L1728.87,59.13 L1729.87,59.12 L1730.87,59.11 L1731.87,59.10 L1732.87,59.09 L1733.87,59.08 L1734.87,59.07 L1735.86,59.07 L1736.86,59.06 L1737.86,59.05 L1738.86,59.04 L1739.86,59.03 L1740.86,59.03 L1741.86,59.02 L1742.86,59.01 L1743.86,59.00 L1744.86,59.00 L1745.85,58.99 L1746.85,58.98 L1747.85,58.98 L1748.85,58.97 L1749.85,58.96 L1750.85,58.96 L1751.85,58.95 L1752.85,58.94 L1753.85,58.94 L1754.84,58.93 L1755.84,58.93 L1756.84,58.92 L1757.84,58.91 L1758.84,58.91 L1759.84,58.90 L1760.84,58.90 L1761.84,58.89 L1762.84,58.89 L1763.84,58.88 L1764.83,58.88 L1765.83,58.87 L1766.83,58.87 L1767.83,58.86 L1768.83,58.86 L1769.83,58.85 L1770.83,58.85 L1771.83,58.85 L1772.83,58.84 L1773.83,58.84 L1774.82,58.83 L1775.82,58.83 L1776.82,58.83 L1777.82,58.82 L1778.82,58.82 L1779.82,58.81 L1780.82,58.81 L1781.82,58.81 L1782.82,58.80 L1783.82,58.80 L1784.81,58.80 L1785.81,58.79 L1786.81,58.79 L1787.81,58.79 L1788.81,58.79 L1789.81,58.78 L1790.81,58.78 L1791.81,58.78 L1792.81,58.77 L1793.81,58.77 L1794.81,58.77 L1795.81,58.77 L1796.81,58.76 L1797.81,58.76 L1798.81,58.76 L1799.80,58.76 L1800.80,58.76 L1801.80,58.75 L1802.80,58.75 L1803.80,58.75 L1804.80,58.75 L1805.80,58.75 L1806.80,58.74 L1807.80,58.74 L1808.80,58.74 L1809.80,58.74 L1810.80,58.74 L1811.80,58.73 L1812.80,58.73 L1813.80,58.73 L1814.80,58.73 L1815.80,58.73 L1816.80,58.73 L1817.80,58.73 L1818.80,58.72 L1819.80,58.72 L1820.80,58.72 L1821.80,58.72 L1822.80,58.72 L1823.80,58.72 L1824.80,58.72 L1825.80,58.71" stroke="#ED7D31"/>
</g>
<path d="M1090.10,31.80 V605.50 H1825.50 M1213.50,605.50 v-11 M1335.50,605.50 v-11 M1458.10,605.50 v-11 M1580.90,605.50 v-11 M1703.50,605.50 v-11 M1090.10,472.40 h11 M1090.10,338.50 h11 M1090.10,205.50 h11 M1090.10,71.60 h11" fill="none" stroke="#3a3a3a" stroke-width="1.3"/>
<text class="b" x="1090.4" y="660.5" text-anchor="middle">0</text>
<text class="b" x="1213.8" y="660.5" text-anchor="middle">5</text>
<text class="b" x="1335.8" y="660.5" text-anchor="middle">10</text>
<text class="b" x="1458.4" y="660.5" text-anchor="middle">15</text>
<text class="b" x="1581.2" y="660.5" text-anchor="middle">20</text>
<text class="b" x="1703.8" y="660.5" text-anchor="middle">25</text>
<text class="b" x="1825.8" y="660.5" text-anchor="middle">30</text>
<text class="b" x="1059.4" y="616.8" text-anchor="end">0.001</text>
<text class="b" x="1059.4" y="483.7" text-anchor="end">0.01</text>
<text class="b" x="1059.4" y="349.8" text-anchor="end">0.1</text>
<text class="b" x="1059.4" y="216.8" text-anchor="end">1</text>
<text class="b" x="1059.4" y="82.9" text-anchor="end">10</text>
<text class="b" x="1457.5" y="705.0" text-anchor="middle">Temperature (kK)</text>
<text class="b" transform="translate(990.0,260.2) rotate(-90)" text-anchor="middle">Electrical conductivity (kS/m)</text>
<path d="M1502.2,322.7 H1526.0" stroke="#4472C4" stroke-width="2.6" fill="none"/>
<text class="b" x="1527.5" y="335.6">20%C4-20%O<tspan font-size="31" dy="-6.4">₂</tspan></text>
<path d="M1502.2,379.6 H1526.0" stroke="#548235" stroke-width="2.6" fill="none"/>
<text class="b" x="1527.5" y="392.5">10%C4-20%O<tspan font-size="31" dy="-6.4">₂</tspan></text>
<path d="M1502.2,436.2 H1526.0" stroke="#ED7D31" stroke-width="2.6" fill="none"/>
<text class="b" x="1527.5" y="448.4">10%C4</text>
<text class="c" transform="translate(0,799.2) scale(1.045,1)" xml:space="preserve"><tspan x="147.89" letter-spacing="0.05">(a)</tspan> <tspan x="215.58" letter-spacing="-2.93">10%</tspan> <tspan x="310.93">C</tspan><tspan x="341.59" dy="6.0" font-size="33">4</tspan><tspan x="362.27" dy="-6.0">F</tspan><tspan x="388.75" dy="6.0" font-size="33">7</tspan><tspan x="406.77" dy="-6.0">N</tspan> <tspan x="456.70" letter-spacing="-0.49">with</tspan> <tspan x="552.38" letter-spacing="-2.82">20%</tspan> <tspan x="647.29">O</tspan><tspan x="681.27" dy="6.0" font-size="33">2</tspan><tspan x="700.11" dy="-6.0">.</tspan></text>
<text class="c" transform="translate(0,799.2) scale(1.045,1)" xml:space="preserve"><tspan x="933.25" letter-spacing="-0.36">(b)</tspan> <tspan x="1004.37">C</tspan><tspan x="1035.18" dy="6.0" font-size="33">4</tspan><tspan x="1055.81" dy="-6.0">F</tspan><tspan x="1083.43" dy="6.0" font-size="33">7</tspan><tspan x="1098.97" dy="-6.0">N</tspan> <tspan x="1148.39" letter-spacing="0.15">mixtures</tspan> <tspan x="1328.85" letter-spacing="-0.29">with</tspan> <tspan x="1425.49" letter-spacing="-2.58">20%</tspan> <tspan x="1520.35">O</tspan><tspan x="1555.05" dy="6.0" font-size="33">2</tspan> <tspan x="1587.63" dy="-6.0" letter-spacing="2.55">at</tspan> <tspan x="1639.32">1</tspan> <tspan x="1679.71" letter-spacing="0.08">bar.</tspan></text>
</svg></body></html>
